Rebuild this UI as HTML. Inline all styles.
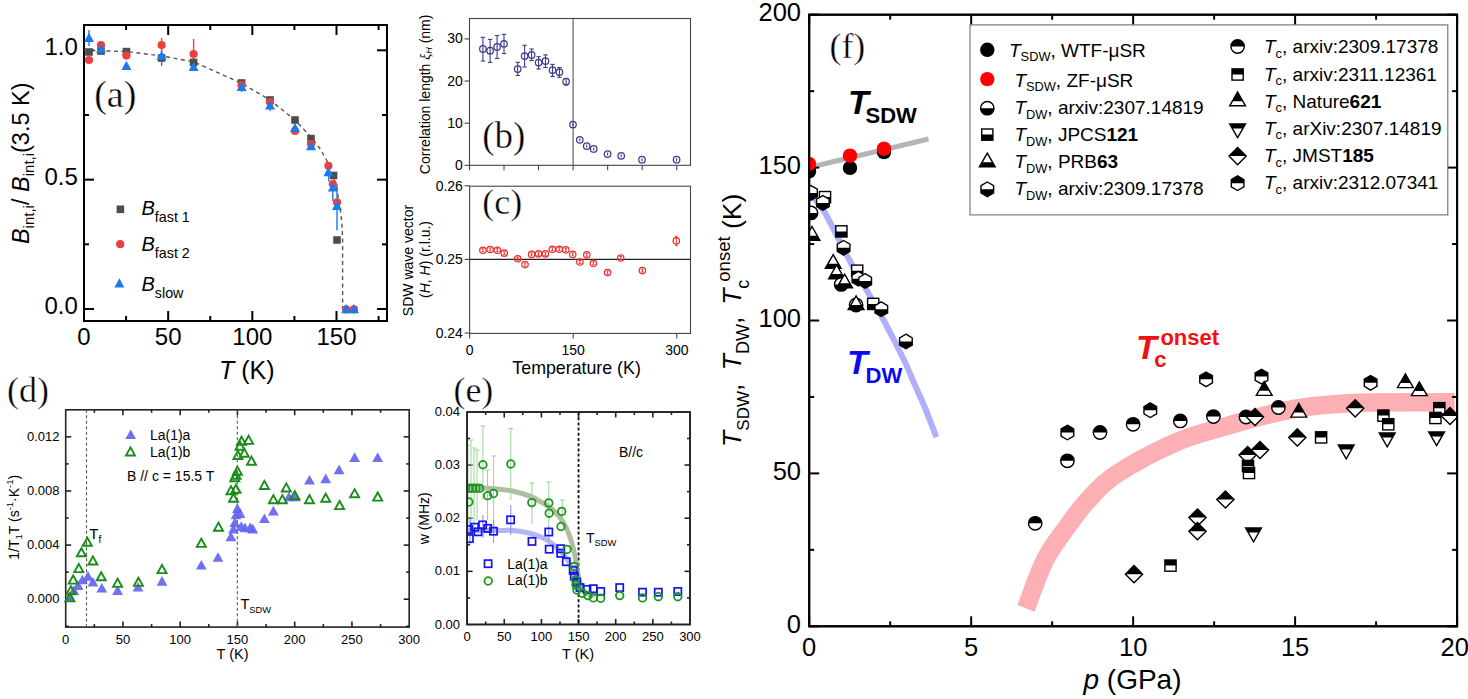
<!DOCTYPE html>
<html><head><meta charset="utf-8"><style>
html,body{margin:0;padding:0;background:#fff;width:1468px;height:699px;overflow:hidden}
svg{display:block;font-family:"Liberation Sans", sans-serif}
</style></head><body>
<svg width="1468" height="699" viewBox="0 0 1468 699">
<rect width="1468" height="699" fill="#fff"/>
<line x1="84.00" y1="321.00" x2="84.00" y2="311.00" stroke="#000" stroke-width="2" />
<line x1="84.00" y1="25.00" x2="84.00" y2="35.00" stroke="#000" stroke-width="2" />
<line x1="168.17" y1="321.00" x2="168.17" y2="311.00" stroke="#000" stroke-width="2" />
<line x1="168.17" y1="25.00" x2="168.17" y2="35.00" stroke="#000" stroke-width="2" />
<line x1="252.33" y1="321.00" x2="252.33" y2="311.00" stroke="#000" stroke-width="2" />
<line x1="252.33" y1="25.00" x2="252.33" y2="35.00" stroke="#000" stroke-width="2" />
<line x1="336.50" y1="321.00" x2="336.50" y2="311.00" stroke="#000" stroke-width="2" />
<line x1="336.50" y1="25.00" x2="336.50" y2="35.00" stroke="#000" stroke-width="2" />
<line x1="126.08" y1="321.00" x2="126.08" y2="316.00" stroke="#000" stroke-width="2" />
<line x1="126.08" y1="25.00" x2="126.08" y2="30.00" stroke="#000" stroke-width="2" />
<line x1="210.25" y1="321.00" x2="210.25" y2="316.00" stroke="#000" stroke-width="2" />
<line x1="210.25" y1="25.00" x2="210.25" y2="30.00" stroke="#000" stroke-width="2" />
<line x1="294.41" y1="321.00" x2="294.41" y2="316.00" stroke="#000" stroke-width="2" />
<line x1="294.41" y1="25.00" x2="294.41" y2="30.00" stroke="#000" stroke-width="2" />
<line x1="378.58" y1="321.00" x2="378.58" y2="316.00" stroke="#000" stroke-width="2" />
<line x1="378.58" y1="25.00" x2="378.58" y2="30.00" stroke="#000" stroke-width="2" />
<line x1="84.00" y1="309.00" x2="94.00" y2="309.00" stroke="#000" stroke-width="2" />
<line x1="387.00" y1="309.00" x2="377.00" y2="309.00" stroke="#000" stroke-width="2" />
<line x1="84.00" y1="179.65" x2="94.00" y2="179.65" stroke="#000" stroke-width="2" />
<line x1="387.00" y1="179.65" x2="377.00" y2="179.65" stroke="#000" stroke-width="2" />
<line x1="84.00" y1="50.30" x2="94.00" y2="50.30" stroke="#000" stroke-width="2" />
<line x1="387.00" y1="50.30" x2="377.00" y2="50.30" stroke="#000" stroke-width="2" />
<line x1="84.00" y1="244.32" x2="89.00" y2="244.32" stroke="#000" stroke-width="2" />
<line x1="387.00" y1="244.32" x2="382.00" y2="244.32" stroke="#000" stroke-width="2" />
<line x1="84.00" y1="114.98" x2="89.00" y2="114.98" stroke="#000" stroke-width="2" />
<line x1="387.00" y1="114.98" x2="382.00" y2="114.98" stroke="#000" stroke-width="2" />
<rect x="84.0" y="25.0" width="303.0" height="296.0" fill="none" stroke="#000" stroke-width="2"/>
<text x="84.00" y="345.10" font-size="24" text-anchor="middle" fill="#000" >0</text>
<text x="168.17" y="345.10" font-size="24" text-anchor="middle" fill="#000" >50</text>
<text x="252.33" y="345.10" font-size="24" text-anchor="middle" fill="#000" >100</text>
<text x="336.50" y="345.10" font-size="24" text-anchor="middle" fill="#000" >150</text>
<text x="77.80" y="313.90" font-size="24" text-anchor="end" fill="#000" >0.0</text>
<text x="77.80" y="184.55" font-size="24" text-anchor="end" fill="#000" >0.5</text>
<text x="77.80" y="55.20" font-size="24" text-anchor="end" fill="#000" >1.0</text>
<text transform="translate(28.60,163.25) rotate(-90)" font-size="23.5" text-anchor="middle" ><tspan font-style="italic">B</tspan><tspan font-size="15" dy="5.5">int,i</tspan><tspan dy="-5.5">/ </tspan><tspan font-style="italic">B</tspan><tspan font-size="15" dy="5.5">int,i</tspan><tspan dy="-5.5">(3.5 K)</tspan></text>
<text x="219" y="379.3" font-size="25"><tspan font-style="italic">T</tspan> (K)</text>
<text x="94.20" y="106.70" font-size="38" font-family='"Liberation Serif", serif' stroke="#fff" stroke-width="0.4">(a)</text>
<path d="M84.0,50.3 L126.0,51.5 L162.0,56.0 L194.0,62.0 L241.0,83.0 L270.0,100.0 L295.0,120.0 L311.0,137.0 L321.0,150.0 L328.0,163.0 L333.0,175.0 L337.0,190.0 L340.0,207.0 L341.8,222.0 L342.6,238.0 L342.6,309.0" fill="none" stroke="#555" stroke-width="1.4" stroke-dasharray="4,3.5"/>
<line x1="89.00" y1="30.00" x2="89.00" y2="46.00" stroke="#1e7ae8" stroke-width="1.4" />
<line x1="161.60" y1="38.00" x2="161.60" y2="52.00" stroke="#ee3f3f" stroke-width="1.4" />
<line x1="161.60" y1="50.00" x2="161.60" y2="66.00" stroke="#1e7ae8" stroke-width="1.4" />
<line x1="193.60" y1="39.00" x2="193.60" y2="62.00" stroke="#ee3f3f" stroke-width="1.4" />
<line x1="101.00" y1="43.00" x2="101.00" y2="53.00" stroke="#ee3f3f" stroke-width="1.4" />
<line x1="241.60" y1="84.00" x2="241.60" y2="92.00" stroke="#1e7ae8" stroke-width="1.4" />
<line x1="270.00" y1="101.00" x2="270.00" y2="111.00" stroke="#1e7ae8" stroke-width="1.4" />
<line x1="295.00" y1="124.00" x2="295.00" y2="134.00" stroke="#1e7ae8" stroke-width="1.4" />
<line x1="328.70" y1="165.00" x2="328.70" y2="181.60" stroke="#1e7ae8" stroke-width="1.4" />
<line x1="332.80" y1="184.00" x2="332.80" y2="201.00" stroke="#1e7ae8" stroke-width="1.4" />
<line x1="337.00" y1="184.00" x2="337.00" y2="230.30" stroke="#1e7ae8" stroke-width="1.4" />
<rect x="85.2" y="48.2" width="7.6" height="7.6" fill="#4d4d4d"/>
<rect x="97.2" y="47.2" width="7.6" height="7.6" fill="#4d4d4d"/>
<rect x="122.6" y="47.8" width="7.6" height="7.6" fill="#4d4d4d"/>
<rect x="157.8" y="54.2" width="7.6" height="7.6" fill="#4d4d4d"/>
<rect x="189.8" y="58.6" width="7.6" height="7.6" fill="#4d4d4d"/>
<rect x="237.8" y="79.2" width="7.6" height="7.6" fill="#4d4d4d"/>
<rect x="266.2" y="96.2" width="7.6" height="7.6" fill="#4d4d4d"/>
<rect x="291.2" y="116.2" width="7.6" height="7.6" fill="#4d4d4d"/>
<rect x="307.2" y="134.8" width="7.6" height="7.6" fill="#4d4d4d"/>
<circle cx="89.0" cy="60.0" r="4.1" fill="#ee3f3f"/>
<circle cx="101.0" cy="45.0" r="4.1" fill="#ee3f3f"/>
<circle cx="126.4" cy="55.6" r="4.1" fill="#ee3f3f"/>
<circle cx="161.6" cy="45.0" r="4.1" fill="#ee3f3f"/>
<circle cx="193.6" cy="54.0" r="4.1" fill="#ee3f3f"/>
<circle cx="241.6" cy="85.0" r="4.1" fill="#ee3f3f"/>
<circle cx="270.0" cy="102.0" r="4.1" fill="#ee3f3f"/>
<circle cx="295.0" cy="131.0" r="4.1" fill="#ee3f3f"/>
<circle cx="311.0" cy="144.0" r="4.1" fill="#ee3f3f"/>
<path d="M89.0,32.7 L94.0,41.9 L84.0,41.9Z" fill="#1e7ae8"/>
<path d="M101.0,43.7 L106.0,52.9 L96.0,52.9Z" fill="#1e7ae8"/>
<path d="M126.4,60.7 L131.4,69.9 L121.4,69.9Z" fill="#1e7ae8"/>
<path d="M161.6,50.7 L166.6,59.9 L156.6,59.9Z" fill="#1e7ae8"/>
<path d="M193.6,61.7 L198.6,70.9 L188.6,70.9Z" fill="#1e7ae8"/>
<path d="M241.6,81.7 L246.6,90.9 L236.6,90.9Z" fill="#1e7ae8"/>
<path d="M270.0,100.3 L275.0,109.5 L265.0,109.5Z" fill="#1e7ae8"/>
<path d="M295.0,122.7 L300.0,131.9 L290.0,131.9Z" fill="#1e7ae8"/>
<path d="M311.0,141.1 L316.0,150.3 L306.0,150.3Z" fill="#1e7ae8"/>
<rect x="329.8" y="171.7" width="7.6" height="7.6" fill="#4d4d4d"/>
<rect x="333.2" y="236.2" width="7.6" height="7.6" fill="#4d4d4d"/>
<circle cx="328.4" cy="165.8" r="4.1" fill="#ee3f3f"/>
<circle cx="332.8" cy="184.0" r="4.1" fill="#ee3f3f"/>
<circle cx="337.0" cy="202.3" r="4.1" fill="#ee3f3f"/>
<path d="M328.4,167.1 L333.4,176.3 L323.4,176.3Z" fill="#1e7ae8"/>
<path d="M332.8,182.4 L337.8,191.6 L327.8,191.6Z" fill="#1e7ae8"/>
<path d="M337.0,200.7 L342.0,209.9 L332.0,209.9Z" fill="#1e7ae8"/>
<circle cx="346.2" cy="309.4" r="4.1" fill="#ee3f3f"/>
<circle cx="354.0" cy="309.4" r="4.1" fill="#ee3f3f"/>
<path d="M346.2,304.1 L351.2,313.3 L341.2,313.3Z" fill="#1e7ae8"/>
<path d="M354.0,304.1 L359.0,313.3 L349.0,313.3Z" fill="#1e7ae8"/>
<rect x="116.6" y="205.5" width="7.6" height="7.6" fill="#4d4d4d"/>
<circle cx="120.2" cy="244.2" r="4.1" fill="#ee3f3f"/>
<path d="M119.4,278.2 L124.4,287.4 L114.4,287.4Z" fill="#1e7ae8"/>
<text x="141.5" y="215.3" font-size="20"><tspan font-style="italic">B</tspan><tspan font-size="14.3" dy="6.5">fast 1</tspan></text>
<text x="141.5" y="251.3" font-size="20"><tspan font-style="italic">B</tspan><tspan font-size="14.3" dy="6.5">fast 2</tspan></text>
<text x="141.5" y="291.0" font-size="20"><tspan font-style="italic">B</tspan><tspan font-size="14.3" dy="6.5">slow</tspan></text>
<rect x="469.5" y="18.5" width="221.0" height="146.8" fill="none" stroke="#444" stroke-width="1.1"/>
<line x1="464.50" y1="165.30" x2="469.50" y2="165.30" stroke="#444" stroke-width="1.1" />
<text x="462.75" y="169.80" font-size="14" text-anchor="end" fill="#000" >0</text>
<line x1="464.50" y1="123.17" x2="469.50" y2="123.17" stroke="#444" stroke-width="1.1" />
<text x="462.75" y="127.67" font-size="14" text-anchor="end" fill="#000" >10</text>
<line x1="464.50" y1="81.04" x2="469.50" y2="81.04" stroke="#444" stroke-width="1.1" />
<text x="462.75" y="85.54" font-size="14" text-anchor="end" fill="#000" >20</text>
<line x1="464.50" y1="38.91" x2="469.50" y2="38.91" stroke="#444" stroke-width="1.1" />
<text x="462.75" y="43.41" font-size="14" text-anchor="end" fill="#000" >30</text>
<line x1="469.50" y1="165.30" x2="469.50" y2="170.30" stroke="#444" stroke-width="1.1" />
<line x1="504.03" y1="165.30" x2="504.03" y2="170.30" stroke="#444" stroke-width="1.1" />
<line x1="538.57" y1="165.30" x2="538.57" y2="170.30" stroke="#444" stroke-width="1.1" />
<line x1="573.11" y1="165.30" x2="573.11" y2="170.30" stroke="#444" stroke-width="1.1" />
<line x1="607.64" y1="165.30" x2="607.64" y2="170.30" stroke="#444" stroke-width="1.1" />
<line x1="642.17" y1="165.30" x2="642.17" y2="170.30" stroke="#444" stroke-width="1.1" />
<line x1="676.71" y1="165.30" x2="676.71" y2="170.30" stroke="#444" stroke-width="1.1" />
<line x1="573.11" y1="18.50" x2="573.11" y2="165.30" stroke="#555" stroke-width="1.1" />
<text transform="translate(429.90,94.35) rotate(-90)" font-size="14" text-anchor="middle" >Correlation length <tspan font-style="italic" font-family='"Liberation Serif", serif'>ξ</tspan><tspan font-size="9" dy="2.5" font-style="italic">H</tspan><tspan dy="-2.5"> (nm)</tspan></text>
<text x="482.30" y="148.20" font-size="37" font-family='"Liberation Serif", serif' stroke="#fff" stroke-width="0.4">(b)</text>
<line x1="482.90" y1="37.30" x2="482.90" y2="61.00" stroke="#3c3c8c" stroke-width="1.1" />
<line x1="480.70" y1="37.30" x2="485.10" y2="37.30" stroke="#3c3c8c" stroke-width="1.1" />
<line x1="480.70" y1="61.00" x2="485.10" y2="61.00" stroke="#3c3c8c" stroke-width="1.1" />
<circle cx="482.9" cy="48.9" r="3.25" fill="none" stroke="#3c3c8c" stroke-width="1.25"/>
<line x1="490.10" y1="39.40" x2="490.10" y2="62.30" stroke="#3c3c8c" stroke-width="1.1" />
<line x1="487.90" y1="39.40" x2="492.30" y2="39.40" stroke="#3c3c8c" stroke-width="1.1" />
<line x1="487.90" y1="62.30" x2="492.30" y2="62.30" stroke="#3c3c8c" stroke-width="1.1" />
<circle cx="490.1" cy="50.7" r="3.25" fill="none" stroke="#3c3c8c" stroke-width="1.25"/>
<line x1="497.10" y1="35.50" x2="497.10" y2="58.50" stroke="#3c3c8c" stroke-width="1.1" />
<line x1="494.90" y1="35.50" x2="499.30" y2="35.50" stroke="#3c3c8c" stroke-width="1.1" />
<line x1="494.90" y1="58.50" x2="499.30" y2="58.50" stroke="#3c3c8c" stroke-width="1.1" />
<circle cx="497.1" cy="46.9" r="3.25" fill="none" stroke="#3c3c8c" stroke-width="1.25"/>
<line x1="504.00" y1="34.30" x2="504.00" y2="53.60" stroke="#3c3c8c" stroke-width="1.1" />
<line x1="501.80" y1="34.30" x2="506.20" y2="34.30" stroke="#3c3c8c" stroke-width="1.1" />
<line x1="501.80" y1="53.60" x2="506.20" y2="53.60" stroke="#3c3c8c" stroke-width="1.1" />
<circle cx="504" cy="43.8" r="3.25" fill="none" stroke="#3c3c8c" stroke-width="1.25"/>
<line x1="517.70" y1="62.30" x2="517.70" y2="75.50" stroke="#3c3c8c" stroke-width="1.1" />
<line x1="515.50" y1="62.30" x2="519.90" y2="62.30" stroke="#3c3c8c" stroke-width="1.1" />
<line x1="515.50" y1="75.50" x2="519.90" y2="75.50" stroke="#3c3c8c" stroke-width="1.1" />
<circle cx="517.7" cy="69" r="3.25" fill="none" stroke="#3c3c8c" stroke-width="1.25"/>
<line x1="524.60" y1="45.30" x2="524.60" y2="67.00" stroke="#3c3c8c" stroke-width="1.1" />
<line x1="522.40" y1="45.30" x2="526.80" y2="45.30" stroke="#3c3c8c" stroke-width="1.1" />
<line x1="522.40" y1="67.00" x2="526.80" y2="67.00" stroke="#3c3c8c" stroke-width="1.1" />
<circle cx="524.6" cy="56.1" r="3.25" fill="none" stroke="#3c3c8c" stroke-width="1.25"/>
<line x1="531.60" y1="49.00" x2="531.60" y2="60.50" stroke="#3c3c8c" stroke-width="1.1" />
<line x1="529.40" y1="49.00" x2="533.80" y2="49.00" stroke="#3c3c8c" stroke-width="1.1" />
<line x1="529.40" y1="60.50" x2="533.80" y2="60.50" stroke="#3c3c8c" stroke-width="1.1" />
<circle cx="531.6" cy="54.9" r="3.25" fill="none" stroke="#3c3c8c" stroke-width="1.25"/>
<line x1="538.60" y1="56.70" x2="538.60" y2="69.00" stroke="#3c3c8c" stroke-width="1.1" />
<line x1="536.40" y1="56.70" x2="540.80" y2="56.70" stroke="#3c3c8c" stroke-width="1.1" />
<line x1="536.40" y1="69.00" x2="540.80" y2="69.00" stroke="#3c3c8c" stroke-width="1.1" />
<circle cx="538.6" cy="62.6" r="3.25" fill="none" stroke="#3c3c8c" stroke-width="1.25"/>
<line x1="545.50" y1="54.90" x2="545.50" y2="67.50" stroke="#3c3c8c" stroke-width="1.1" />
<line x1="543.30" y1="54.90" x2="547.70" y2="54.90" stroke="#3c3c8c" stroke-width="1.1" />
<line x1="543.30" y1="67.50" x2="547.70" y2="67.50" stroke="#3c3c8c" stroke-width="1.1" />
<circle cx="545.5" cy="61" r="3.25" fill="none" stroke="#3c3c8c" stroke-width="1.25"/>
<line x1="552.50" y1="64.40" x2="552.50" y2="76.50" stroke="#3c3c8c" stroke-width="1.1" />
<line x1="550.30" y1="64.40" x2="554.70" y2="64.40" stroke="#3c3c8c" stroke-width="1.1" />
<line x1="550.30" y1="76.50" x2="554.70" y2="76.50" stroke="#3c3c8c" stroke-width="1.1" />
<circle cx="552.5" cy="70" r="3.25" fill="none" stroke="#3c3c8c" stroke-width="1.25"/>
<line x1="559.40" y1="67.50" x2="559.40" y2="77.30" stroke="#3c3c8c" stroke-width="1.1" />
<line x1="557.20" y1="67.50" x2="561.60" y2="67.50" stroke="#3c3c8c" stroke-width="1.1" />
<line x1="557.20" y1="77.30" x2="561.60" y2="77.30" stroke="#3c3c8c" stroke-width="1.1" />
<circle cx="559.4" cy="72.1" r="3.25" fill="none" stroke="#3c3c8c" stroke-width="1.25"/>
<line x1="566.10" y1="78.50" x2="566.10" y2="85.00" stroke="#3c3c8c" stroke-width="1.1" />
<line x1="563.90" y1="78.50" x2="568.30" y2="78.50" stroke="#3c3c8c" stroke-width="1.1" />
<line x1="563.90" y1="85.00" x2="568.30" y2="85.00" stroke="#3c3c8c" stroke-width="1.1" />
<circle cx="566.1" cy="81.6" r="3.25" fill="none" stroke="#3c3c8c" stroke-width="1.25"/>
<line x1="573.00" y1="123.10" x2="573.00" y2="126.10" stroke="#3c3c8c" stroke-width="1.1" />
<circle cx="573" cy="124.6" r="3.25" fill="none" stroke="#3c3c8c" stroke-width="1.25"/>
<line x1="579.80" y1="138.30" x2="579.80" y2="141.30" stroke="#3c3c8c" stroke-width="1.1" />
<circle cx="579.8" cy="139.8" r="3.25" fill="none" stroke="#3c3c8c" stroke-width="1.25"/>
<line x1="586.70" y1="144.50" x2="586.70" y2="147.50" stroke="#3c3c8c" stroke-width="1.1" />
<circle cx="586.7" cy="146" r="3.25" fill="none" stroke="#3c3c8c" stroke-width="1.25"/>
<line x1="593.70" y1="147.40" x2="593.70" y2="150.40" stroke="#3c3c8c" stroke-width="1.1" />
<circle cx="593.7" cy="148.9" r="3.25" fill="none" stroke="#3c3c8c" stroke-width="1.25"/>
<line x1="607.60" y1="152.50" x2="607.60" y2="155.50" stroke="#3c3c8c" stroke-width="1.1" />
<circle cx="607.6" cy="154" r="3.25" fill="none" stroke="#3c3c8c" stroke-width="1.25"/>
<line x1="621.20" y1="154.30" x2="621.20" y2="157.30" stroke="#3c3c8c" stroke-width="1.1" />
<circle cx="621.2" cy="155.8" r="3.25" fill="none" stroke="#3c3c8c" stroke-width="1.25"/>
<line x1="642.00" y1="158.20" x2="642.00" y2="161.20" stroke="#3c3c8c" stroke-width="1.1" />
<circle cx="642" cy="159.7" r="3.25" fill="none" stroke="#3c3c8c" stroke-width="1.25"/>
<line x1="676.60" y1="158.20" x2="676.60" y2="161.20" stroke="#3c3c8c" stroke-width="1.1" />
<circle cx="676.6" cy="159.7" r="3.25" fill="none" stroke="#3c3c8c" stroke-width="1.25"/>
<rect x="469.6" y="186.2" width="220.89999999999998" height="147.2" fill="none" stroke="#444" stroke-width="1.1"/>
<line x1="469.60" y1="259.40" x2="690.50" y2="259.40" stroke="#222" stroke-width="1.1" />
<line x1="464.60" y1="333.00" x2="469.60" y2="333.00" stroke="#444" stroke-width="1.1" />
<text x="462.90" y="337.80" font-size="14" text-anchor="end" fill="#000" >0.24</text>
<line x1="464.60" y1="259.40" x2="469.60" y2="259.40" stroke="#444" stroke-width="1.1" />
<text x="462.90" y="264.20" font-size="14" text-anchor="end" fill="#000" >0.25</text>
<line x1="464.60" y1="185.80" x2="469.60" y2="185.80" stroke="#444" stroke-width="1.1" />
<text x="462.90" y="190.60" font-size="14" text-anchor="end" fill="#000" >0.26</text>
<line x1="469.60" y1="333.40" x2="469.60" y2="338.40" stroke="#444" stroke-width="1.1" />
<text x="469.60" y="354.80" font-size="14" text-anchor="middle" fill="#000" >0</text>
<line x1="573.21" y1="333.40" x2="573.21" y2="338.40" stroke="#444" stroke-width="1.1" />
<text x="573.21" y="354.80" font-size="14" text-anchor="middle" fill="#000" >150</text>
<line x1="676.81" y1="333.40" x2="676.81" y2="338.40" stroke="#444" stroke-width="1.1" />
<text x="676.81" y="354.80" font-size="14" text-anchor="middle" fill="#000" >300</text>
<text x="576.6" y="374.2" font-size="17.8" text-anchor="middle">Temperature (K)</text>
<text transform="translate(413.40,260.50) rotate(-90)" font-size="14" text-anchor="middle" >SDW wave vector</text>
<text transform="translate(429.80,259.50) rotate(-90)" font-size="14" text-anchor="middle" >(<tspan font-style="italic">H</tspan>, <tspan font-style="italic">H</tspan>) (r.l.u.)</text>
<text x="482.30" y="214.10" font-size="36" font-family='"Liberation Serif", serif' stroke="#fff" stroke-width="0.4">(c)</text>
<line x1="482.90" y1="248.70" x2="482.90" y2="251.70" stroke="#f02a2a" stroke-width="1.0" />
<line x1="481.60" y1="248.70" x2="484.20" y2="248.70" stroke="#f02a2a" stroke-width="0.9" />
<line x1="481.60" y1="251.70" x2="484.20" y2="251.70" stroke="#f02a2a" stroke-width="0.9" />
<circle cx="482.9" cy="250.2" r="3.2" fill="none" stroke="#f02a2a" stroke-width="1.25"/>
<line x1="490.10" y1="248.00" x2="490.10" y2="251.00" stroke="#f02a2a" stroke-width="1.0" />
<line x1="488.80" y1="248.00" x2="491.40" y2="248.00" stroke="#f02a2a" stroke-width="0.9" />
<line x1="488.80" y1="251.00" x2="491.40" y2="251.00" stroke="#f02a2a" stroke-width="0.9" />
<circle cx="490.1" cy="249.5" r="3.2" fill="none" stroke="#f02a2a" stroke-width="1.25"/>
<line x1="497.30" y1="248.70" x2="497.30" y2="251.70" stroke="#f02a2a" stroke-width="1.0" />
<line x1="496.00" y1="248.70" x2="498.60" y2="248.70" stroke="#f02a2a" stroke-width="0.9" />
<line x1="496.00" y1="251.70" x2="498.60" y2="251.70" stroke="#f02a2a" stroke-width="0.9" />
<circle cx="497.3" cy="250.2" r="3.2" fill="none" stroke="#f02a2a" stroke-width="1.25"/>
<line x1="504.20" y1="251.60" x2="504.20" y2="254.60" stroke="#f02a2a" stroke-width="1.0" />
<line x1="502.90" y1="251.60" x2="505.50" y2="251.60" stroke="#f02a2a" stroke-width="0.9" />
<line x1="502.90" y1="254.60" x2="505.50" y2="254.60" stroke="#f02a2a" stroke-width="0.9" />
<circle cx="504.2" cy="253.1" r="3.2" fill="none" stroke="#f02a2a" stroke-width="1.25"/>
<line x1="517.70" y1="257.20" x2="517.70" y2="260.20" stroke="#f02a2a" stroke-width="1.0" />
<line x1="516.40" y1="257.20" x2="519.00" y2="257.20" stroke="#f02a2a" stroke-width="0.9" />
<line x1="516.40" y1="260.20" x2="519.00" y2="260.20" stroke="#f02a2a" stroke-width="0.9" />
<circle cx="517.7" cy="258.7" r="3.2" fill="none" stroke="#f02a2a" stroke-width="1.25"/>
<line x1="525.00" y1="263.10" x2="525.00" y2="266.10" stroke="#f02a2a" stroke-width="1.0" />
<line x1="523.70" y1="263.10" x2="526.30" y2="263.10" stroke="#f02a2a" stroke-width="0.9" />
<line x1="523.70" y1="266.10" x2="526.30" y2="266.10" stroke="#f02a2a" stroke-width="0.9" />
<circle cx="525" cy="264.6" r="3.2" fill="none" stroke="#f02a2a" stroke-width="1.25"/>
<line x1="531.60" y1="252.90" x2="531.60" y2="255.90" stroke="#f02a2a" stroke-width="1.0" />
<line x1="530.30" y1="252.90" x2="532.90" y2="252.90" stroke="#f02a2a" stroke-width="0.9" />
<line x1="530.30" y1="255.90" x2="532.90" y2="255.90" stroke="#f02a2a" stroke-width="0.9" />
<circle cx="531.6" cy="254.4" r="3.2" fill="none" stroke="#f02a2a" stroke-width="1.25"/>
<line x1="538.50" y1="252.30" x2="538.50" y2="255.30" stroke="#f02a2a" stroke-width="1.0" />
<line x1="537.20" y1="252.30" x2="539.80" y2="252.30" stroke="#f02a2a" stroke-width="0.9" />
<line x1="537.20" y1="255.30" x2="539.80" y2="255.30" stroke="#f02a2a" stroke-width="0.9" />
<circle cx="538.5" cy="253.8" r="3.2" fill="none" stroke="#f02a2a" stroke-width="1.25"/>
<line x1="545.40" y1="252.30" x2="545.40" y2="255.30" stroke="#f02a2a" stroke-width="1.0" />
<line x1="544.10" y1="252.30" x2="546.70" y2="252.30" stroke="#f02a2a" stroke-width="0.9" />
<line x1="544.10" y1="255.30" x2="546.70" y2="255.30" stroke="#f02a2a" stroke-width="0.9" />
<circle cx="545.4" cy="253.8" r="3.2" fill="none" stroke="#f02a2a" stroke-width="1.25"/>
<line x1="552.30" y1="247.70" x2="552.30" y2="250.70" stroke="#f02a2a" stroke-width="1.0" />
<line x1="551.00" y1="247.70" x2="553.60" y2="247.70" stroke="#f02a2a" stroke-width="0.9" />
<line x1="551.00" y1="250.70" x2="553.60" y2="250.70" stroke="#f02a2a" stroke-width="0.9" />
<circle cx="552.3" cy="249.2" r="3.2" fill="none" stroke="#f02a2a" stroke-width="1.25"/>
<line x1="559.20" y1="247.70" x2="559.20" y2="250.70" stroke="#f02a2a" stroke-width="1.0" />
<line x1="557.90" y1="247.70" x2="560.50" y2="247.70" stroke="#f02a2a" stroke-width="0.9" />
<line x1="557.90" y1="250.70" x2="560.50" y2="250.70" stroke="#f02a2a" stroke-width="0.9" />
<circle cx="559.2" cy="249.2" r="3.2" fill="none" stroke="#f02a2a" stroke-width="1.25"/>
<line x1="565.80" y1="248.30" x2="565.80" y2="251.30" stroke="#f02a2a" stroke-width="1.0" />
<line x1="564.50" y1="248.30" x2="567.10" y2="248.30" stroke="#f02a2a" stroke-width="0.9" />
<line x1="564.50" y1="251.30" x2="567.10" y2="251.30" stroke="#f02a2a" stroke-width="0.9" />
<circle cx="565.8" cy="249.8" r="3.2" fill="none" stroke="#f02a2a" stroke-width="1.25"/>
<line x1="572.70" y1="252.90" x2="572.70" y2="255.90" stroke="#f02a2a" stroke-width="1.0" />
<line x1="571.40" y1="252.90" x2="574.00" y2="252.90" stroke="#f02a2a" stroke-width="0.9" />
<line x1="571.40" y1="255.90" x2="574.00" y2="255.90" stroke="#f02a2a" stroke-width="0.9" />
<circle cx="572.7" cy="254.4" r="3.2" fill="none" stroke="#f02a2a" stroke-width="1.25"/>
<line x1="579.90" y1="260.50" x2="579.90" y2="263.50" stroke="#f02a2a" stroke-width="1.0" />
<line x1="578.60" y1="260.50" x2="581.20" y2="260.50" stroke="#f02a2a" stroke-width="0.9" />
<line x1="578.60" y1="263.50" x2="581.20" y2="263.50" stroke="#f02a2a" stroke-width="0.9" />
<circle cx="579.9" cy="262" r="3.2" fill="none" stroke="#f02a2a" stroke-width="1.25"/>
<line x1="586.80" y1="253.30" x2="586.80" y2="256.30" stroke="#f02a2a" stroke-width="1.0" />
<line x1="585.50" y1="253.30" x2="588.10" y2="253.30" stroke="#f02a2a" stroke-width="0.9" />
<line x1="585.50" y1="256.30" x2="588.10" y2="256.30" stroke="#f02a2a" stroke-width="0.9" />
<circle cx="586.8" cy="254.8" r="3.2" fill="none" stroke="#f02a2a" stroke-width="1.25"/>
<line x1="593.40" y1="261.80" x2="593.40" y2="264.80" stroke="#f02a2a" stroke-width="1.0" />
<line x1="592.10" y1="261.80" x2="594.70" y2="261.80" stroke="#f02a2a" stroke-width="0.9" />
<line x1="592.10" y1="264.80" x2="594.70" y2="264.80" stroke="#f02a2a" stroke-width="0.9" />
<circle cx="593.4" cy="263.3" r="3.2" fill="none" stroke="#f02a2a" stroke-width="1.25"/>
<line x1="607.60" y1="271.00" x2="607.60" y2="274.00" stroke="#f02a2a" stroke-width="1.0" />
<line x1="606.30" y1="271.00" x2="608.90" y2="271.00" stroke="#f02a2a" stroke-width="0.9" />
<line x1="606.30" y1="274.00" x2="608.90" y2="274.00" stroke="#f02a2a" stroke-width="0.9" />
<circle cx="607.6" cy="272.5" r="3.2" fill="none" stroke="#f02a2a" stroke-width="1.25"/>
<line x1="620.70" y1="256.50" x2="620.70" y2="259.50" stroke="#f02a2a" stroke-width="1.0" />
<line x1="619.40" y1="256.50" x2="622.00" y2="256.50" stroke="#f02a2a" stroke-width="0.9" />
<line x1="619.40" y1="259.50" x2="622.00" y2="259.50" stroke="#f02a2a" stroke-width="0.9" />
<circle cx="620.7" cy="258" r="3.2" fill="none" stroke="#f02a2a" stroke-width="1.25"/>
<line x1="642.40" y1="269.10" x2="642.40" y2="272.10" stroke="#f02a2a" stroke-width="1.0" />
<line x1="641.10" y1="269.10" x2="643.70" y2="269.10" stroke="#f02a2a" stroke-width="0.9" />
<line x1="641.10" y1="272.10" x2="643.70" y2="272.10" stroke="#f02a2a" stroke-width="0.9" />
<circle cx="642.4" cy="270.6" r="3.2" fill="none" stroke="#f02a2a" stroke-width="1.25"/>
<line x1="676.30" y1="236.40" x2="676.30" y2="245.40" stroke="#f02a2a" stroke-width="1.0" />
<line x1="675.00" y1="236.40" x2="677.60" y2="236.40" stroke="#f02a2a" stroke-width="0.9" />
<line x1="675.00" y1="245.40" x2="677.60" y2="245.40" stroke="#f02a2a" stroke-width="0.9" />
<circle cx="676.3" cy="240.9" r="3.2" fill="none" stroke="#f02a2a" stroke-width="1.25"/>
<line x1="65.70" y1="626.26" x2="68.70" y2="626.26" stroke="#222" stroke-width="1.6" />
<line x1="409.20" y1="626.26" x2="406.20" y2="626.26" stroke="#222" stroke-width="1.6" />
<line x1="65.70" y1="599.20" x2="71.20" y2="599.20" stroke="#222" stroke-width="1.6" />
<line x1="409.20" y1="599.20" x2="403.70" y2="599.20" stroke="#222" stroke-width="1.6" />
<line x1="65.70" y1="572.14" x2="68.70" y2="572.14" stroke="#222" stroke-width="1.6" />
<line x1="409.20" y1="572.14" x2="406.20" y2="572.14" stroke="#222" stroke-width="1.6" />
<line x1="65.70" y1="545.08" x2="71.20" y2="545.08" stroke="#222" stroke-width="1.6" />
<line x1="409.20" y1="545.08" x2="403.70" y2="545.08" stroke="#222" stroke-width="1.6" />
<line x1="65.70" y1="518.03" x2="68.70" y2="518.03" stroke="#222" stroke-width="1.6" />
<line x1="409.20" y1="518.03" x2="406.20" y2="518.03" stroke="#222" stroke-width="1.6" />
<line x1="65.70" y1="490.97" x2="71.20" y2="490.97" stroke="#222" stroke-width="1.6" />
<line x1="409.20" y1="490.97" x2="403.70" y2="490.97" stroke="#222" stroke-width="1.6" />
<line x1="65.70" y1="463.91" x2="68.70" y2="463.91" stroke="#222" stroke-width="1.6" />
<line x1="409.20" y1="463.91" x2="406.20" y2="463.91" stroke="#222" stroke-width="1.6" />
<line x1="65.70" y1="436.85" x2="71.20" y2="436.85" stroke="#222" stroke-width="1.6" />
<line x1="409.20" y1="436.85" x2="403.70" y2="436.85" stroke="#222" stroke-width="1.6" />
<line x1="94.33" y1="627.10" x2="94.33" y2="624.10" stroke="#222" stroke-width="1.6" />
<line x1="94.33" y1="409.80" x2="94.33" y2="412.80" stroke="#222" stroke-width="1.6" />
<line x1="122.95" y1="627.10" x2="122.95" y2="621.60" stroke="#222" stroke-width="1.6" />
<line x1="122.95" y1="409.80" x2="122.95" y2="415.30" stroke="#222" stroke-width="1.6" />
<line x1="151.57" y1="627.10" x2="151.57" y2="624.10" stroke="#222" stroke-width="1.6" />
<line x1="151.57" y1="409.80" x2="151.57" y2="412.80" stroke="#222" stroke-width="1.6" />
<line x1="180.20" y1="627.10" x2="180.20" y2="621.60" stroke="#222" stroke-width="1.6" />
<line x1="180.20" y1="409.80" x2="180.20" y2="415.30" stroke="#222" stroke-width="1.6" />
<line x1="208.82" y1="627.10" x2="208.82" y2="624.10" stroke="#222" stroke-width="1.6" />
<line x1="208.82" y1="409.80" x2="208.82" y2="412.80" stroke="#222" stroke-width="1.6" />
<line x1="237.45" y1="627.10" x2="237.45" y2="621.60" stroke="#222" stroke-width="1.6" />
<line x1="237.45" y1="409.80" x2="237.45" y2="415.30" stroke="#222" stroke-width="1.6" />
<line x1="266.07" y1="627.10" x2="266.07" y2="624.10" stroke="#222" stroke-width="1.6" />
<line x1="266.07" y1="409.80" x2="266.07" y2="412.80" stroke="#222" stroke-width="1.6" />
<line x1="294.70" y1="627.10" x2="294.70" y2="621.60" stroke="#222" stroke-width="1.6" />
<line x1="294.70" y1="409.80" x2="294.70" y2="415.30" stroke="#222" stroke-width="1.6" />
<line x1="323.32" y1="627.10" x2="323.32" y2="624.10" stroke="#222" stroke-width="1.6" />
<line x1="323.32" y1="409.80" x2="323.32" y2="412.80" stroke="#222" stroke-width="1.6" />
<line x1="351.95" y1="627.10" x2="351.95" y2="621.60" stroke="#222" stroke-width="1.6" />
<line x1="351.95" y1="409.80" x2="351.95" y2="415.30" stroke="#222" stroke-width="1.6" />
<line x1="380.57" y1="627.10" x2="380.57" y2="624.10" stroke="#222" stroke-width="1.6" />
<line x1="380.57" y1="409.80" x2="380.57" y2="412.80" stroke="#222" stroke-width="1.6" />
<rect x="65.7" y="409.8" width="343.5" height="217.3" fill="none" stroke="#222" stroke-width="1.6"/>
<text x="59.50" y="603.30" font-size="13" text-anchor="end" fill="#000" >0.000</text>
<text x="59.50" y="549.18" font-size="13" text-anchor="end" fill="#000" >0.004</text>
<text x="59.50" y="495.07" font-size="13" text-anchor="end" fill="#000" >0.008</text>
<text x="59.50" y="440.95" font-size="13" text-anchor="end" fill="#000" >0.012</text>
<text x="65.70" y="644.00" font-size="13" text-anchor="middle" fill="#000" >0</text>
<text x="122.95" y="644.00" font-size="13" text-anchor="middle" fill="#000" >50</text>
<text x="180.20" y="644.00" font-size="13" text-anchor="middle" fill="#000" >100</text>
<text x="237.45" y="644.00" font-size="13" text-anchor="middle" fill="#000" >150</text>
<text x="294.70" y="644.00" font-size="13" text-anchor="middle" fill="#000" >200</text>
<text x="351.95" y="644.00" font-size="13" text-anchor="middle" fill="#000" >250</text>
<text x="409.20" y="644.00" font-size="13" text-anchor="middle" fill="#000" >300</text>
<text x="232.5" y="658.8" font-size="14.5" text-anchor="middle">T (K)</text>
<text transform="translate(18.90,517.25) rotate(-90)" font-size="14" text-anchor="middle" >1/T<tspan font-size="9.5" dy="3">1</tspan><tspan dy="-3">T (s</tspan><tspan font-size="9.5" dy="-5.5">-1</tspan><tspan dy="5.5">·K</tspan><tspan font-size="9.5" dy="-5.5">-1</tspan><tspan dy="5.5">)</tspan></text>
<text x="7.00" y="401.60" font-size="36" font-family='"Liberation Serif", serif' stroke="#fff" stroke-width="0.4">(d)</text>
<line x1="86.50" y1="409.80" x2="86.50" y2="627.10" stroke="#555" stroke-width="1.1" stroke-dasharray="3,2.5"/>
<line x1="237.30" y1="409.80" x2="237.30" y2="627.10" stroke="#555" stroke-width="1.1" stroke-dasharray="3,2.5"/>
<text x="89.3" y="538.9" font-size="15">T<tspan font-size="10" dy="4">f</tspan></text>
<text x="240.5" y="609.4" font-size="14.5">T<tspan font-size="9.3" dy="3.5">SDW</tspan></text>
<path d="M130.7,429.5 L136.1,439.1 L125.3,439.1Z" fill="#6464f0" fill-opacity="0.92"/>
<path d="M130.5,447.4 L135.0,455.5 L126.0,455.5Z" fill="none" stroke="#1a8c1a" stroke-width="1.9"/>
<text x="149.90" y="439.50" font-size="14" text-anchor="start" fill="#000" >La(1)a</text>
<text x="149.90" y="457.00" font-size="14" text-anchor="start" fill="#000" >La(1)b</text>
<text x="127.00" y="481.30" font-size="14" text-anchor="start" fill="#000" >B // c = 15.5 T</text>
<path d="M69.9,591.9 L75.3,601.5 L64.5,601.5Z" fill="#6464f0" fill-opacity="0.92"/>
<path d="M73.8,585.3 L79.2,594.9 L68.4,594.9Z" fill="#6464f0" fill-opacity="0.92"/>
<path d="M78.1,580.3 L83.5,589.9 L72.7,589.9Z" fill="#6464f0" fill-opacity="0.92"/>
<path d="M82.4,574.7 L87.8,584.3 L77.0,584.3Z" fill="#6464f0" fill-opacity="0.92"/>
<path d="M88.0,571.1 L93.4,580.7 L82.6,580.7Z" fill="#6464f0" fill-opacity="0.92"/>
<path d="M92.9,577.0 L98.3,586.6 L87.5,586.6Z" fill="#6464f0" fill-opacity="0.92"/>
<path d="M101.8,583.0 L107.2,592.6 L96.4,592.6Z" fill="#6464f0" fill-opacity="0.92"/>
<path d="M117.6,585.3 L123.0,594.9 L112.2,594.9Z" fill="#6464f0" fill-opacity="0.92"/>
<path d="M138.0,582.0 L143.4,591.6 L132.6,591.6Z" fill="#6464f0" fill-opacity="0.92"/>
<path d="M162.0,576.1 L167.4,585.7 L156.6,585.7Z" fill="#6464f0" fill-opacity="0.92"/>
<path d="M201.3,559.9 L206.7,569.5 L195.9,569.5Z" fill="#6464f0" fill-opacity="0.92"/>
<path d="M218.0,552.2 L223.4,561.8 L212.6,561.8Z" fill="#6464f0" fill-opacity="0.92"/>
<path d="M230.9,531.6 L236.3,541.2 L225.5,541.2Z" fill="#6464f0" fill-opacity="0.92"/>
<path d="M233.5,523.8 L238.9,533.4 L228.1,533.4Z" fill="#6464f0" fill-opacity="0.92"/>
<path d="M234.8,517.4 L240.2,527.0 L229.4,527.0Z" fill="#6464f0" fill-opacity="0.92"/>
<path d="M236.0,509.7 L241.4,519.3 L230.6,519.3Z" fill="#6464f0" fill-opacity="0.92"/>
<path d="M237.4,503.3 L242.8,512.9 L232.0,512.9Z" fill="#6464f0" fill-opacity="0.92"/>
<path d="M240.0,508.3 L245.4,517.9 L234.6,517.9Z" fill="#6464f0" fill-opacity="0.92"/>
<path d="M241.2,521.3 L246.6,530.9 L235.8,530.9Z" fill="#6464f0" fill-opacity="0.92"/>
<path d="M245.0,522.6 L250.4,532.2 L239.6,532.2Z" fill="#6464f0" fill-opacity="0.92"/>
<path d="M250.2,522.6 L255.6,532.2 L244.8,532.2Z" fill="#6464f0" fill-opacity="0.92"/>
<path d="M252.8,523.8 L258.2,533.4 L247.4,533.4Z" fill="#6464f0" fill-opacity="0.92"/>
<path d="M264.4,513.5 L269.8,523.1 L259.0,523.1Z" fill="#6464f0" fill-opacity="0.92"/>
<path d="M273.4,505.8 L278.8,515.4 L268.0,515.4Z" fill="#6464f0" fill-opacity="0.92"/>
<path d="M288.9,491.7 L294.3,501.3 L283.5,501.3Z" fill="#6464f0" fill-opacity="0.92"/>
<path d="M295.3,491.7 L300.7,501.3 L289.9,501.3Z" fill="#6464f0" fill-opacity="0.92"/>
<path d="M309.5,474.9 L314.9,484.5 L304.1,484.5Z" fill="#6464f0" fill-opacity="0.92"/>
<path d="M325.7,473.6 L331.1,483.2 L320.3,483.2Z" fill="#6464f0" fill-opacity="0.92"/>
<path d="M339.1,464.6 L344.5,474.2 L333.7,474.2Z" fill="#6464f0" fill-opacity="0.92"/>
<path d="M354.6,452.3 L360.0,461.9 L349.2,461.9Z" fill="#6464f0" fill-opacity="0.92"/>
<path d="M377.7,452.3 L383.1,461.9 L372.3,461.9Z" fill="#6464f0" fill-opacity="0.92"/>
<path d="M69.9,593.3 L74.4,601.4 L65.4,601.4Z" fill="none" stroke="#1a8c1a" stroke-width="1.9"/>
<path d="M70.9,586.1 L75.4,594.2 L66.4,594.2Z" fill="none" stroke="#1a8c1a" stroke-width="1.9"/>
<path d="M73.2,575.5 L77.7,583.6 L68.7,583.6Z" fill="none" stroke="#1a8c1a" stroke-width="1.9"/>
<path d="M78.8,564.0 L83.3,572.1 L74.3,572.1Z" fill="none" stroke="#1a8c1a" stroke-width="1.9"/>
<path d="M81.4,548.2 L85.9,556.3 L76.9,556.3Z" fill="none" stroke="#1a8c1a" stroke-width="1.9"/>
<path d="M87.3,537.7 L91.8,545.8 L82.8,545.8Z" fill="none" stroke="#1a8c1a" stroke-width="1.9"/>
<path d="M92.9,556.4 L97.4,564.5 L88.4,564.5Z" fill="none" stroke="#1a8c1a" stroke-width="1.9"/>
<path d="M101.2,572.2 L105.7,580.3 L96.7,580.3Z" fill="none" stroke="#1a8c1a" stroke-width="1.9"/>
<path d="M117.6,578.8 L122.1,586.9 L113.1,586.9Z" fill="none" stroke="#1a8c1a" stroke-width="1.9"/>
<path d="M138.4,577.8 L142.9,585.9 L133.9,585.9Z" fill="none" stroke="#1a8c1a" stroke-width="1.9"/>
<path d="M162.0,565.0 L166.5,573.1 L157.5,573.1Z" fill="none" stroke="#1a8c1a" stroke-width="1.9"/>
<path d="M201.3,538.8 L205.8,546.9 L196.8,546.9Z" fill="none" stroke="#1a8c1a" stroke-width="1.9"/>
<path d="M218.5,522.6 L223.0,530.7 L214.0,530.7Z" fill="none" stroke="#1a8c1a" stroke-width="1.9"/>
<path d="M233.5,493.7 L238.0,501.8 L229.0,501.8Z" fill="none" stroke="#1a8c1a" stroke-width="1.9"/>
<path d="M236.0,484.7 L240.5,492.8 L231.5,492.8Z" fill="none" stroke="#1a8c1a" stroke-width="1.9"/>
<path d="M231.0,486.1 L235.5,494.2 L226.5,494.2Z" fill="none" stroke="#1a8c1a" stroke-width="1.9"/>
<path d="M236.0,470.6 L240.5,478.7 L231.5,478.7Z" fill="none" stroke="#1a8c1a" stroke-width="1.9"/>
<path d="M234.8,473.1 L239.3,481.2 L230.3,481.2Z" fill="none" stroke="#1a8c1a" stroke-width="1.9"/>
<path d="M237.4,466.7 L241.9,474.8 L232.9,474.8Z" fill="none" stroke="#1a8c1a" stroke-width="1.9"/>
<path d="M241.5,436.6 L246.0,444.7 L237.0,444.7Z" fill="none" stroke="#1a8c1a" stroke-width="1.9"/>
<path d="M248.6,435.8 L253.1,443.9 L244.1,443.9Z" fill="none" stroke="#1a8c1a" stroke-width="1.9"/>
<path d="M240.0,441.6 L244.5,449.7 L235.5,449.7Z" fill="none" stroke="#1a8c1a" stroke-width="1.9"/>
<path d="M244.3,448.7 L248.8,456.8 L239.8,456.8Z" fill="none" stroke="#1a8c1a" stroke-width="1.9"/>
<path d="M237.9,450.9 L242.4,459.0 L233.4,459.0Z" fill="none" stroke="#1a8c1a" stroke-width="1.9"/>
<path d="M251.5,456.6 L256.0,464.7 L247.0,464.7Z" fill="none" stroke="#1a8c1a" stroke-width="1.9"/>
<path d="M264.4,480.9 L268.9,489.0 L259.9,489.0Z" fill="none" stroke="#1a8c1a" stroke-width="1.9"/>
<path d="M273.4,495.1 L277.9,503.2 L268.9,503.2Z" fill="none" stroke="#1a8c1a" stroke-width="1.9"/>
<path d="M282.4,495.1 L286.9,503.2 L277.9,503.2Z" fill="none" stroke="#1a8c1a" stroke-width="1.9"/>
<path d="M286.3,483.4 L290.8,491.5 L281.8,491.5Z" fill="none" stroke="#1a8c1a" stroke-width="1.9"/>
<path d="M294.8,491.1 L299.3,499.2 L290.3,499.2Z" fill="none" stroke="#1a8c1a" stroke-width="1.9"/>
<path d="M309.5,495.1 L314.0,503.2 L305.0,503.2Z" fill="none" stroke="#1a8c1a" stroke-width="1.9"/>
<path d="M325.7,493.7 L330.2,501.8 L321.2,501.8Z" fill="none" stroke="#1a8c1a" stroke-width="1.9"/>
<path d="M339.6,501.0 L344.1,509.1 L335.1,509.1Z" fill="none" stroke="#1a8c1a" stroke-width="1.9"/>
<path d="M354.6,489.1 L359.1,497.2 L350.1,497.2Z" fill="none" stroke="#1a8c1a" stroke-width="1.9"/>
<path d="M377.7,492.5 L382.2,500.6 L373.2,500.6Z" fill="none" stroke="#1a8c1a" stroke-width="1.9"/>
<line x1="467.10" y1="597.92" x2="470.10" y2="597.92" stroke="#222" stroke-width="1.6" />
<line x1="690.00" y1="597.92" x2="687.00" y2="597.92" stroke="#222" stroke-width="1.6" />
<line x1="467.10" y1="571.35" x2="472.60" y2="571.35" stroke="#222" stroke-width="1.6" />
<line x1="690.00" y1="571.35" x2="684.50" y2="571.35" stroke="#222" stroke-width="1.6" />
<line x1="467.10" y1="544.77" x2="470.10" y2="544.77" stroke="#222" stroke-width="1.6" />
<line x1="690.00" y1="544.77" x2="687.00" y2="544.77" stroke="#222" stroke-width="1.6" />
<line x1="467.10" y1="518.20" x2="472.60" y2="518.20" stroke="#222" stroke-width="1.6" />
<line x1="690.00" y1="518.20" x2="684.50" y2="518.20" stroke="#222" stroke-width="1.6" />
<line x1="467.10" y1="491.62" x2="470.10" y2="491.62" stroke="#222" stroke-width="1.6" />
<line x1="690.00" y1="491.62" x2="687.00" y2="491.62" stroke="#222" stroke-width="1.6" />
<line x1="467.10" y1="465.05" x2="472.60" y2="465.05" stroke="#222" stroke-width="1.6" />
<line x1="690.00" y1="465.05" x2="684.50" y2="465.05" stroke="#222" stroke-width="1.6" />
<line x1="467.10" y1="438.48" x2="470.10" y2="438.48" stroke="#222" stroke-width="1.6" />
<line x1="690.00" y1="438.48" x2="687.00" y2="438.48" stroke="#222" stroke-width="1.6" />
<line x1="485.68" y1="624.50" x2="485.68" y2="621.50" stroke="#222" stroke-width="1.6" />
<line x1="485.68" y1="412.00" x2="485.68" y2="415.00" stroke="#222" stroke-width="1.6" />
<line x1="504.25" y1="624.50" x2="504.25" y2="619.00" stroke="#222" stroke-width="1.6" />
<line x1="504.25" y1="412.00" x2="504.25" y2="417.50" stroke="#222" stroke-width="1.6" />
<line x1="522.83" y1="624.50" x2="522.83" y2="621.50" stroke="#222" stroke-width="1.6" />
<line x1="522.83" y1="412.00" x2="522.83" y2="415.00" stroke="#222" stroke-width="1.6" />
<line x1="541.40" y1="624.50" x2="541.40" y2="619.00" stroke="#222" stroke-width="1.6" />
<line x1="541.40" y1="412.00" x2="541.40" y2="417.50" stroke="#222" stroke-width="1.6" />
<line x1="559.98" y1="624.50" x2="559.98" y2="621.50" stroke="#222" stroke-width="1.6" />
<line x1="559.98" y1="412.00" x2="559.98" y2="415.00" stroke="#222" stroke-width="1.6" />
<line x1="578.55" y1="624.50" x2="578.55" y2="619.00" stroke="#222" stroke-width="1.6" />
<line x1="578.55" y1="412.00" x2="578.55" y2="417.50" stroke="#222" stroke-width="1.6" />
<line x1="597.12" y1="624.50" x2="597.12" y2="621.50" stroke="#222" stroke-width="1.6" />
<line x1="597.12" y1="412.00" x2="597.12" y2="415.00" stroke="#222" stroke-width="1.6" />
<line x1="615.70" y1="624.50" x2="615.70" y2="619.00" stroke="#222" stroke-width="1.6" />
<line x1="615.70" y1="412.00" x2="615.70" y2="417.50" stroke="#222" stroke-width="1.6" />
<line x1="634.28" y1="624.50" x2="634.28" y2="621.50" stroke="#222" stroke-width="1.6" />
<line x1="634.28" y1="412.00" x2="634.28" y2="415.00" stroke="#222" stroke-width="1.6" />
<line x1="652.85" y1="624.50" x2="652.85" y2="619.00" stroke="#222" stroke-width="1.6" />
<line x1="652.85" y1="412.00" x2="652.85" y2="417.50" stroke="#222" stroke-width="1.6" />
<line x1="671.42" y1="624.50" x2="671.42" y2="621.50" stroke="#222" stroke-width="1.6" />
<line x1="671.42" y1="412.00" x2="671.42" y2="415.00" stroke="#222" stroke-width="1.6" />
<rect x="467.1" y="412.0" width="222.89999999999998" height="212.5" fill="none" stroke="#222" stroke-width="1.6"/>
<text x="460.10" y="628.50" font-size="13" text-anchor="end" fill="#000" >0.00</text>
<text x="460.10" y="575.35" font-size="13" text-anchor="end" fill="#000" >0.01</text>
<text x="460.10" y="522.20" font-size="13" text-anchor="end" fill="#000" >0.02</text>
<text x="460.10" y="469.05" font-size="13" text-anchor="end" fill="#000" >0.03</text>
<text x="460.10" y="415.90" font-size="13" text-anchor="end" fill="#000" >0.04</text>
<text x="467.10" y="641.40" font-size="13" text-anchor="middle" fill="#000" >0</text>
<text x="504.25" y="641.40" font-size="13" text-anchor="middle" fill="#000" >50</text>
<text x="541.40" y="641.40" font-size="13" text-anchor="middle" fill="#000" >100</text>
<text x="578.55" y="641.40" font-size="13" text-anchor="middle" fill="#000" >150</text>
<text x="615.70" y="641.40" font-size="13" text-anchor="middle" fill="#000" >200</text>
<text x="652.85" y="641.40" font-size="13" text-anchor="middle" fill="#000" >250</text>
<text x="690.00" y="641.40" font-size="13" text-anchor="middle" fill="#000" >300</text>
<text x="578" y="658.8" font-size="14.5" text-anchor="middle">T (K)</text>
<text transform="translate(428.60,518.30) rotate(-90)" font-size="14" text-anchor="middle" >w (MHz)</text>
<text x="453.40" y="401.60" font-size="36" font-family='"Liberation Serif", serif' stroke="#fff" stroke-width="0.4">(e)</text>
<line x1="578.55" y1="412.00" x2="578.55" y2="624.50" stroke="#111" stroke-width="1.8" stroke-dasharray="3,2.2"/>
<text x="619" y="456.6" font-size="14">B//c</text>
<text x="586" y="542.5" font-size="14">T<tspan font-size="9.3" dy="3.7">SDW</tspan></text>
<path d="M467.50,487.20 C472.30,487.48 488.63,488.23 496.30,488.90 C503.97,489.57 507.78,489.97 513.50,491.20 C519.22,492.43 526.02,494.50 530.60,496.30 C535.18,498.10 537.62,500.00 541.00,502.00 C544.38,504.00 547.82,505.82 550.90,508.30 C553.98,510.78 556.92,513.60 559.50,516.90 C562.08,520.20 564.40,523.95 566.40,528.10 C568.40,532.25 570.08,537.23 571.50,541.80 C572.92,546.37 573.90,550.63 574.90,555.50 C575.90,560.37 576.63,566.42 577.50,571.00 C578.37,575.58 578.82,579.45 580.10,583.00 C581.38,586.55 582.72,590.22 585.20,592.30 C587.68,594.38 593.37,594.97 595.00,595.50" fill="none" stroke="#a2b290" stroke-opacity="0.85" stroke-width="5"/>
<path d="M467.50,530.50 C472.30,530.52 488.63,530.60 496.30,530.60 C503.97,530.60 507.78,530.02 513.50,530.50 C519.22,530.98 525.85,532.33 530.60,533.50 C535.35,534.67 538.62,535.97 542.00,537.50 C545.38,539.03 547.98,540.55 550.90,542.70 C553.82,544.85 556.63,547.40 559.50,550.40 C562.37,553.40 565.82,556.98 568.10,560.70 C570.38,564.42 571.77,568.70 573.20,572.70 C574.63,576.70 575.57,581.82 576.70,584.70 C577.83,587.58 579.45,589.12 580.00,590.00" fill="none" stroke="#a8a8f5" stroke-opacity="0.85" stroke-width="5"/>
<clipPath id="cle"><rect x="467.1" y="412.0" width="222.89999999999998" height="212.5"/></clipPath><g clip-path="url(#cle)">
<line x1="468.00" y1="445.00" x2="468.00" y2="530.00" stroke="#9dd39d" stroke-width="1" />
<line x1="465.50" y1="445.00" x2="470.50" y2="445.00" stroke="#9dd39d" stroke-width="1" />
<line x1="471.00" y1="440.00" x2="471.00" y2="530.00" stroke="#9dd39d" stroke-width="1" />
<line x1="468.50" y1="440.00" x2="473.50" y2="440.00" stroke="#9dd39d" stroke-width="1" />
<line x1="474.00" y1="448.00" x2="474.00" y2="525.00" stroke="#9dd39d" stroke-width="1" />
<line x1="471.50" y1="448.00" x2="476.50" y2="448.00" stroke="#9dd39d" stroke-width="1" />
<line x1="477.00" y1="450.00" x2="477.00" y2="520.00" stroke="#9dd39d" stroke-width="1" />
<line x1="474.50" y1="450.00" x2="479.50" y2="450.00" stroke="#9dd39d" stroke-width="1" />
<line x1="482.90" y1="426.00" x2="482.90" y2="500.00" stroke="#9dd39d" stroke-width="1" />
<line x1="480.40" y1="426.00" x2="485.40" y2="426.00" stroke="#9dd39d" stroke-width="1" />
<line x1="487.50" y1="470.00" x2="487.50" y2="520.00" stroke="#9dd39d" stroke-width="1" />
<line x1="485.00" y1="470.00" x2="490.00" y2="470.00" stroke="#9dd39d" stroke-width="1" />
<line x1="493.60" y1="456.00" x2="493.60" y2="530.00" stroke="#9dd39d" stroke-width="1" />
<line x1="491.10" y1="456.00" x2="496.10" y2="456.00" stroke="#9dd39d" stroke-width="1" />
<line x1="510.80" y1="428.60" x2="510.80" y2="500.00" stroke="#9dd39d" stroke-width="1" />
<line x1="508.30" y1="428.60" x2="513.30" y2="428.60" stroke="#9dd39d" stroke-width="1" />
<line x1="532.00" y1="483.00" x2="532.00" y2="524.00" stroke="#9dd39d" stroke-width="1" />
<line x1="529.50" y1="483.00" x2="534.50" y2="483.00" stroke="#9dd39d" stroke-width="1" />
<line x1="548.80" y1="482.00" x2="548.80" y2="524.00" stroke="#9dd39d" stroke-width="1" />
<line x1="546.30" y1="482.00" x2="551.30" y2="482.00" stroke="#9dd39d" stroke-width="1" />
<line x1="562.30" y1="500.00" x2="562.30" y2="522.00" stroke="#9dd39d" stroke-width="1" />
<line x1="559.80" y1="500.00" x2="564.80" y2="500.00" stroke="#9dd39d" stroke-width="1" />
<line x1="470.00" y1="518.00" x2="470.00" y2="545.00" stroke="#8888ee" stroke-width="1" />
<line x1="482.90" y1="515.00" x2="482.90" y2="538.00" stroke="#8888ee" stroke-width="1" />
<line x1="493.60" y1="520.00" x2="493.60" y2="543.00" stroke="#8888ee" stroke-width="1" />
<line x1="510.80" y1="505.00" x2="510.80" y2="535.00" stroke="#8888ee" stroke-width="1" />
<line x1="548.80" y1="525.00" x2="548.80" y2="540.00" stroke="#8888ee" stroke-width="1" />
<rect x="465.8" y="535.0" width="7.2" height="7.2" fill="none" stroke="#1414f0" stroke-width="1.7"/>
<rect x="465.3" y="525.9" width="7.2" height="7.2" fill="none" stroke="#1414f0" stroke-width="1.7"/>
<rect x="471.0" y="523.6" width="7.2" height="7.2" fill="none" stroke="#1414f0" stroke-width="1.7"/>
<rect x="474.4" y="528.2" width="7.2" height="7.2" fill="none" stroke="#1414f0" stroke-width="1.7"/>
<rect x="479.0" y="521.3" width="7.2" height="7.2" fill="none" stroke="#1414f0" stroke-width="1.7"/>
<rect x="484.1" y="524.8" width="7.2" height="7.2" fill="none" stroke="#1414f0" stroke-width="1.7"/>
<rect x="489.9" y="527.6" width="7.2" height="7.2" fill="none" stroke="#1414f0" stroke-width="1.7"/>
<rect x="507.0" y="516.2" width="7.2" height="7.2" fill="none" stroke="#1414f0" stroke-width="1.7"/>
<rect x="528.4" y="537.8" width="7.2" height="7.2" fill="none" stroke="#1414f0" stroke-width="1.7"/>
<rect x="545.2" y="528.4" width="7.2" height="7.2" fill="none" stroke="#1414f0" stroke-width="1.7"/>
<rect x="545.6" y="545.6" width="7.2" height="7.2" fill="none" stroke="#1414f0" stroke-width="1.7"/>
<rect x="557.1" y="545.1" width="7.2" height="7.2" fill="none" stroke="#1414f0" stroke-width="1.7"/>
<rect x="557.1" y="549.7" width="7.2" height="7.2" fill="none" stroke="#1414f0" stroke-width="1.7"/>
<rect x="562.7" y="558.1" width="7.2" height="7.2" fill="none" stroke="#1414f0" stroke-width="1.7"/>
<rect x="569.6" y="566.8" width="7.2" height="7.2" fill="none" stroke="#1414f0" stroke-width="1.7"/>
<rect x="570.7" y="572.5" width="7.2" height="7.2" fill="none" stroke="#1414f0" stroke-width="1.7"/>
<rect x="573.0" y="578.3" width="7.2" height="7.2" fill="none" stroke="#1414f0" stroke-width="1.7"/>
<rect x="576.4" y="584.0" width="7.2" height="7.2" fill="none" stroke="#1414f0" stroke-width="1.7"/>
<rect x="583.4" y="585.8" width="7.2" height="7.2" fill="none" stroke="#1414f0" stroke-width="1.7"/>
<rect x="589.7" y="585.1" width="7.2" height="7.2" fill="none" stroke="#1414f0" stroke-width="1.7"/>
<rect x="597.1" y="587.9" width="7.2" height="7.2" fill="none" stroke="#1414f0" stroke-width="1.7"/>
<rect x="616.1" y="584.0" width="7.2" height="7.2" fill="none" stroke="#1414f0" stroke-width="1.7"/>
<rect x="638.9" y="588.6" width="7.2" height="7.2" fill="none" stroke="#1414f0" stroke-width="1.7"/>
<rect x="654.7" y="588.6" width="7.2" height="7.2" fill="none" stroke="#1414f0" stroke-width="1.7"/>
<rect x="674.2" y="587.9" width="7.2" height="7.2" fill="none" stroke="#1414f0" stroke-width="1.7"/>
<circle cx="468.9" cy="502.0" r="3.8" fill="none" stroke="#1e961e" stroke-width="1.8"/>
<circle cx="469.0" cy="488.3" r="3.8" fill="none" stroke="#1e961e" stroke-width="1.8"/>
<circle cx="472.5" cy="488.3" r="3.8" fill="none" stroke="#1e961e" stroke-width="1.8"/>
<circle cx="476.0" cy="488.3" r="3.8" fill="none" stroke="#1e961e" stroke-width="1.8"/>
<circle cx="479.5" cy="488.3" r="3.8" fill="none" stroke="#1e961e" stroke-width="1.8"/>
<circle cx="482.9" cy="464.7" r="3.8" fill="none" stroke="#1e961e" stroke-width="1.8"/>
<circle cx="510.8" cy="464.0" r="3.8" fill="none" stroke="#1e961e" stroke-width="1.8"/>
<circle cx="487.7" cy="495.7" r="3.8" fill="none" stroke="#1e961e" stroke-width="1.8"/>
<circle cx="493.5" cy="493.5" r="3.8" fill="none" stroke="#1e961e" stroke-width="1.8"/>
<circle cx="531.8" cy="502.6" r="3.8" fill="none" stroke="#1e961e" stroke-width="1.8"/>
<circle cx="548.8" cy="502.9" r="3.8" fill="none" stroke="#1e961e" stroke-width="1.8"/>
<circle cx="549.2" cy="513.2" r="3.8" fill="none" stroke="#1e961e" stroke-width="1.8"/>
<circle cx="561.7" cy="511.4" r="3.8" fill="none" stroke="#1e961e" stroke-width="1.8"/>
<circle cx="561.0" cy="526.5" r="3.8" fill="none" stroke="#1e961e" stroke-width="1.8"/>
<circle cx="567.0" cy="549.4" r="3.8" fill="none" stroke="#1e961e" stroke-width="1.8"/>
<circle cx="574.3" cy="566.5" r="3.8" fill="none" stroke="#1e961e" stroke-width="1.8"/>
<circle cx="575.5" cy="580.0" r="3.8" fill="none" stroke="#1e961e" stroke-width="1.8"/>
<circle cx="576.0" cy="585.0" r="3.8" fill="none" stroke="#1e961e" stroke-width="1.8"/>
<circle cx="577.0" cy="590.0" r="3.8" fill="none" stroke="#1e961e" stroke-width="1.8"/>
<circle cx="582.3" cy="593.3" r="3.8" fill="none" stroke="#1e961e" stroke-width="1.8"/>
<circle cx="588.0" cy="595.6" r="3.8" fill="none" stroke="#1e961e" stroke-width="1.8"/>
<circle cx="593.3" cy="597.9" r="3.8" fill="none" stroke="#1e961e" stroke-width="1.8"/>
<circle cx="600.7" cy="598.3" r="3.8" fill="none" stroke="#1e961e" stroke-width="1.8"/>
<circle cx="619.7" cy="595.6" r="3.8" fill="none" stroke="#1e961e" stroke-width="1.8"/>
<circle cx="642.5" cy="597.9" r="3.8" fill="none" stroke="#1e961e" stroke-width="1.8"/>
<circle cx="658.3" cy="596.7" r="3.8" fill="none" stroke="#1e961e" stroke-width="1.8"/>
<circle cx="677.8" cy="596.7" r="3.8" fill="none" stroke="#1e961e" stroke-width="1.8"/>
</g>
<rect x="467.1" y="412.0" width="222.89999999999998" height="212.5" fill="none" stroke="#222" stroke-width="1.6"/>
<rect x="484.5" y="560.1" width="7.2" height="7.2" fill="none" stroke="#1414f0" stroke-width="1.7"/>
<circle cx="488.2" cy="581.0" r="3.8" fill="none" stroke="#1e961e" stroke-width="1.8"/>
<text x="507.20" y="568.70" font-size="14" text-anchor="start" fill="#000" >La(1)a</text>
<text x="507.20" y="585.40" font-size="14" text-anchor="start" fill="#000" >La(1)b</text>
<path d="M1026.00,608.30 C1029.17,600.25 1038.03,573.73 1045.00,560.00 C1051.97,546.27 1060.63,535.88 1067.80,525.90 C1074.97,515.92 1079.97,508.68 1088.00,500.10 C1096.03,491.52 1101.60,483.92 1116.00,474.40 C1130.40,464.88 1156.80,450.82 1174.40,443.00 C1192.00,435.18 1205.87,432.27 1221.60,427.50 C1237.33,422.73 1254.07,417.90 1268.80,414.40 C1283.53,410.90 1293.30,408.48 1310.00,406.50 C1326.70,404.52 1344.90,403.20 1369.00,402.50 C1393.10,401.80 1440.33,402.33 1454.60,402.30" fill="none" stroke="#fdb0b3" stroke-width="18.5"/>
<path d="M809,167.5 L928.5,139" fill="none" stroke="#b5b5b5" stroke-width="5"/>
<path d="M813.50,197.50 C815.38,200.00 818.78,202.00 824.80,212.50 C830.82,223.00 842.17,246.77 849.60,260.50 C857.03,274.23 863.73,284.98 869.40,294.90 C875.07,304.82 877.83,309.15 883.60,320.00 C889.37,330.85 899.15,350.00 904.00,360.00 C908.85,370.00 909.20,372.00 912.70,380.00 C916.20,388.00 921.05,398.47 925.00,408.00 C928.95,417.53 934.50,432.33 936.40,437.20" fill="none" stroke="#b0b0fa" stroke-width="6"/>
<line x1="809.20" y1="626.30" x2="809.20" y2="616.30" stroke="#000" stroke-width="2" />
<line x1="809.20" y1="14.70" x2="809.20" y2="24.70" stroke="#000" stroke-width="2" />
<text x="809.20" y="655.60" font-size="25.5" text-anchor="middle" fill="#000" >0</text>
<line x1="971.18" y1="626.30" x2="971.18" y2="616.30" stroke="#000" stroke-width="2" />
<line x1="971.18" y1="14.70" x2="971.18" y2="24.70" stroke="#000" stroke-width="2" />
<text x="971.18" y="655.60" font-size="25.5" text-anchor="middle" fill="#000" >5</text>
<line x1="1133.15" y1="626.30" x2="1133.15" y2="616.30" stroke="#000" stroke-width="2" />
<line x1="1133.15" y1="14.70" x2="1133.15" y2="24.70" stroke="#000" stroke-width="2" />
<text x="1133.15" y="655.60" font-size="25.5" text-anchor="middle" fill="#000" >10</text>
<line x1="1295.12" y1="626.30" x2="1295.12" y2="616.30" stroke="#000" stroke-width="2" />
<line x1="1295.12" y1="14.70" x2="1295.12" y2="24.70" stroke="#000" stroke-width="2" />
<text x="1295.12" y="655.60" font-size="25.5" text-anchor="middle" fill="#000" >15</text>
<line x1="1457.10" y1="626.30" x2="1457.10" y2="616.30" stroke="#000" stroke-width="2" />
<line x1="1457.10" y1="14.70" x2="1457.10" y2="24.70" stroke="#000" stroke-width="2" />
<text x="1454.70" y="655.60" font-size="25.5" text-anchor="middle" fill="#000" >20</text>
<line x1="890.19" y1="626.30" x2="890.19" y2="621.30" stroke="#000" stroke-width="2" />
<line x1="890.19" y1="14.70" x2="890.19" y2="19.70" stroke="#000" stroke-width="2" />
<line x1="1052.16" y1="626.30" x2="1052.16" y2="621.30" stroke="#000" stroke-width="2" />
<line x1="1052.16" y1="14.70" x2="1052.16" y2="19.70" stroke="#000" stroke-width="2" />
<line x1="1214.14" y1="626.30" x2="1214.14" y2="621.30" stroke="#000" stroke-width="2" />
<line x1="1214.14" y1="14.70" x2="1214.14" y2="19.70" stroke="#000" stroke-width="2" />
<line x1="1376.11" y1="626.30" x2="1376.11" y2="621.30" stroke="#000" stroke-width="2" />
<line x1="1376.11" y1="14.70" x2="1376.11" y2="19.70" stroke="#000" stroke-width="2" />
<line x1="809.20" y1="626.30" x2="819.20" y2="626.30" stroke="#000" stroke-width="2" />
<line x1="1457.10" y1="626.30" x2="1447.10" y2="626.30" stroke="#000" stroke-width="2" />
<text x="801.00" y="632.90" font-size="25.5" text-anchor="end" fill="#000" >0</text>
<line x1="809.20" y1="473.40" x2="819.20" y2="473.40" stroke="#000" stroke-width="2" />
<line x1="1457.10" y1="473.40" x2="1447.10" y2="473.40" stroke="#000" stroke-width="2" />
<text x="801.00" y="480.00" font-size="25.5" text-anchor="end" fill="#000" >50</text>
<line x1="809.20" y1="320.50" x2="819.20" y2="320.50" stroke="#000" stroke-width="2" />
<line x1="1457.10" y1="320.50" x2="1447.10" y2="320.50" stroke="#000" stroke-width="2" />
<text x="801.00" y="327.10" font-size="25.5" text-anchor="end" fill="#000" >100</text>
<line x1="809.20" y1="167.60" x2="819.20" y2="167.60" stroke="#000" stroke-width="2" />
<line x1="1457.10" y1="167.60" x2="1447.10" y2="167.60" stroke="#000" stroke-width="2" />
<text x="801.00" y="174.20" font-size="25.5" text-anchor="end" fill="#000" >150</text>
<line x1="809.20" y1="14.70" x2="819.20" y2="14.70" stroke="#000" stroke-width="2" />
<line x1="1457.10" y1="14.70" x2="1447.10" y2="14.70" stroke="#000" stroke-width="2" />
<text x="801.00" y="21.30" font-size="25.5" text-anchor="end" fill="#000" >200</text>
<line x1="809.20" y1="549.85" x2="814.20" y2="549.85" stroke="#000" stroke-width="2" />
<line x1="1457.10" y1="549.85" x2="1452.10" y2="549.85" stroke="#000" stroke-width="2" />
<line x1="809.20" y1="396.95" x2="814.20" y2="396.95" stroke="#000" stroke-width="2" />
<line x1="1457.10" y1="396.95" x2="1452.10" y2="396.95" stroke="#000" stroke-width="2" />
<line x1="809.20" y1="244.05" x2="814.20" y2="244.05" stroke="#000" stroke-width="2" />
<line x1="1457.10" y1="244.05" x2="1452.10" y2="244.05" stroke="#000" stroke-width="2" />
<line x1="809.20" y1="91.15" x2="814.20" y2="91.15" stroke="#000" stroke-width="2" />
<line x1="1457.10" y1="91.15" x2="1452.10" y2="91.15" stroke="#000" stroke-width="2" />
<rect x="809.2" y="14.7" width="647.8999999999999" height="611.5999999999999" fill="none" stroke="#000" stroke-width="2"/>
<text x="1132.5" y="689.3" font-size="28" text-anchor="middle"><tspan font-style="italic">p</tspan> (GPa)</text>
<text transform="translate(741.00,320.30) rotate(-90)" font-size="26.5" text-anchor="middle" ><tspan font-style="italic">T</tspan><tspan font-size="17" dy="7.5">SDW</tspan><tspan dy="-7.5">,  </tspan><tspan font-style="italic" dx="6">T</tspan><tspan font-size="18" dy="7.5">DW</tspan><tspan dy="-7.5">,  </tspan><tspan font-style="italic" dx="4.5">T</tspan><tspan font-size="18" dy="7.5">c</tspan><tspan font-size="18.5" dy="-18.5" dx="-2">onset</tspan><tspan dy="11"> (K)</tspan></text>
<text x="829.40" y="57.50" font-size="36" font-family='"Liberation Serif", serif' stroke="#fff" stroke-width="0.4">(f)</text>
<text x="848" y="114" font-size="34" font-weight="bold" font-style="italic">T</text><text x="865.5" y="122.8" font-size="22" font-weight="bold">SDW</text>
<text x="847" y="373.6" font-size="34" font-weight="bold" font-style="italic" fill="#0a0af5">T</text><text x="865.5" y="382.8" font-size="22" font-weight="bold" fill="#0a0af5">DW</text>
<text x="1136" y="358.6" font-size="34" font-weight="bold" font-style="italic" fill="#f21010">T</text><text x="1154.3" y="367.2" font-size="22" font-weight="bold" fill="#f21010">c</text><text x="1160.4" y="345.2" font-size="22" font-weight="bold" fill="#f21010">onset</text>
<clipPath id="clf"><rect x="809.2" y="14.7" width="647.8999999999999" height="611.5999999999999"/></clipPath><g clip-path="url(#clf)">
<circle cx="809.0" cy="171.4" r="7.2" fill="#000"/>
<circle cx="850.0" cy="167.9" r="7.2" fill="#000"/>
<circle cx="884.0" cy="152.1" r="7.2" fill="#000"/>
<circle cx="809.0" cy="163.9" r="7.2" fill="#f00"/>
<circle cx="850.0" cy="155.7" r="7.2" fill="#f00"/>
<circle cx="884.0" cy="148.7" r="7.2" fill="#f00"/>
<g fill="#fff"><path d="M811.00,185.60 L817.32,189.25 L817.32,196.55 L811.00,200.20 L804.68,196.55 L804.68,189.25Z"/></g><g fill="#000"><svg x="799.00" y="192.90" width="24" height="12" viewBox="799.00 192.90 24 12" overflow="hidden"><path d="M811.00,185.60 L817.32,189.25 L817.32,196.55 L811.00,200.20 L804.68,196.55 L804.68,189.25Z"/></svg></g><g fill="none" stroke="#000" stroke-width="1.4"><path d="M811.00,185.60 L817.32,189.25 L817.32,196.55 L811.00,200.20 L804.68,196.55 L804.68,189.25Z"/></g>
<g fill="#fff"><circle cx="811.00" cy="212.90" r="6.7"/></g><g fill="#000"><svg x="799.00" y="212.90" width="24" height="12" viewBox="799.00 212.90 24 12" overflow="hidden"><circle cx="811.00" cy="212.90" r="6.7"/></svg></g><g fill="none" stroke="#000" stroke-width="1.4"><circle cx="811.00" cy="212.90" r="6.7"/></g>
<g fill="#fff"><path d="M812.00,226.50 L819.90,240.30 L804.10,240.30Z"/></g><g fill="#000"><svg x="800.00" y="235.70" width="24" height="12" viewBox="800.00 235.70 24 12" overflow="hidden"><path d="M812.00,226.50 L819.90,240.30 L804.10,240.30Z"/></svg></g><g fill="none" stroke="#000" stroke-width="1.4"><path d="M812.00,226.50 L819.90,240.30 L804.10,240.30Z"/></g>
<g fill="#fff"><rect x="819.40" y="191.50" width="11.2" height="11.2"/></g><g fill="#000"><svg x="813.00" y="197.10" width="24" height="12" viewBox="813.00 197.10 24 12" overflow="hidden"><rect x="819.40" y="191.50" width="11.2" height="11.2"/></svg></g><g fill="none" stroke="#000" stroke-width="1.4"><rect x="819.40" y="191.50" width="11.2" height="11.2"/></g>
<g fill="#fff"><path d="M822.90,195.60 L829.22,199.25 L829.22,206.55 L822.90,210.20 L816.58,206.55 L816.58,199.25Z"/></g><g fill="#000"><svg x="810.90" y="202.90" width="24" height="12" viewBox="810.90 202.90 24 12" overflow="hidden"><path d="M822.90,195.60 L829.22,199.25 L829.22,206.55 L822.90,210.20 L816.58,206.55 L816.58,199.25Z"/></svg></g><g fill="none" stroke="#000" stroke-width="1.4"><path d="M822.90,195.60 L829.22,199.25 L829.22,206.55 L822.90,210.20 L816.58,206.55 L816.58,199.25Z"/></g>
<g fill="#fff"><rect x="835.80" y="225.80" width="11.2" height="11.2"/></g><g fill="#000"><svg x="829.40" y="231.40" width="24" height="12" viewBox="829.40 231.40 24 12" overflow="hidden"><rect x="835.80" y="225.80" width="11.2" height="11.2"/></svg></g><g fill="none" stroke="#000" stroke-width="1.4"><rect x="835.80" y="225.80" width="11.2" height="11.2"/></g>
<g fill="#fff"><path d="M843.60,240.50 L849.92,244.15 L849.92,251.45 L843.60,255.10 L837.28,251.45 L837.28,244.15Z"/></g><g fill="#000"><svg x="831.60" y="247.80" width="24" height="12" viewBox="831.60 247.80 24 12" overflow="hidden"><path d="M843.60,240.50 L849.92,244.15 L849.92,251.45 L843.60,255.10 L837.28,251.45 L837.28,244.15Z"/></svg></g><g fill="none" stroke="#000" stroke-width="1.4"><path d="M843.60,240.50 L849.92,244.15 L849.92,251.45 L843.60,255.10 L837.28,251.45 L837.28,244.15Z"/></g>
<g fill="#fff"><path d="M833.20,254.60 L841.10,268.40 L825.30,268.40Z"/></g><g fill="#000"><svg x="821.20" y="263.80" width="24" height="12" viewBox="821.20 263.80 24 12" overflow="hidden"><path d="M833.20,254.60 L841.10,268.40 L825.30,268.40Z"/></svg></g><g fill="none" stroke="#000" stroke-width="1.4"><path d="M833.20,254.60 L841.10,268.40 L825.30,268.40Z"/></g>
<g fill="#fff"><path d="M836.60,264.90 L844.50,278.70 L828.70,278.70Z"/></g><g fill="#000"><svg x="824.60" y="274.10" width="24" height="12" viewBox="824.60 274.10 24 12" overflow="hidden"><path d="M836.60,264.90 L844.50,278.70 L828.70,278.70Z"/></svg></g><g fill="none" stroke="#000" stroke-width="1.4"><path d="M836.60,264.90 L844.50,278.70 L828.70,278.70Z"/></g>
<g fill="#fff"><circle cx="841.20" cy="284.40" r="6.7"/></g><g fill="#000"><svg x="829.20" y="284.40" width="24" height="12" viewBox="829.20 284.40 24 12" overflow="hidden"><circle cx="841.20" cy="284.40" r="6.7"/></svg></g><g fill="none" stroke="#000" stroke-width="1.4"><circle cx="841.20" cy="284.40" r="6.7"/></g>
<g fill="#fff"><path d="M844.60,274.10 L852.50,287.90 L836.70,287.90Z"/></g><g fill="#000"><svg x="832.60" y="283.30" width="24" height="12" viewBox="832.60 283.30 24 12" overflow="hidden"><path d="M844.60,274.10 L852.50,287.90 L836.70,287.90Z"/></svg></g><g fill="none" stroke="#000" stroke-width="1.4"><path d="M844.60,274.10 L852.50,287.90 L836.70,287.90Z"/></g>
<g fill="#fff"><rect x="851.60" y="265.10" width="11.2" height="11.2"/></g><g fill="#000"><svg x="845.20" y="270.70" width="24" height="12" viewBox="845.20 270.70 24 12" overflow="hidden"><rect x="851.60" y="265.10" width="11.2" height="11.2"/></svg></g><g fill="none" stroke="#000" stroke-width="1.4"><rect x="851.60" y="265.10" width="11.2" height="11.2"/></g>
<g fill="#fff"><path d="M858.40,271.40 L864.72,275.05 L864.72,282.35 L858.40,286.00 L852.08,282.35 L852.08,275.05Z"/></g><g fill="#000"><svg x="846.40" y="278.70" width="24" height="12" viewBox="846.40 278.70 24 12" overflow="hidden"><path d="M858.40,271.40 L864.72,275.05 L864.72,282.35 L858.40,286.00 L852.08,282.35 L852.08,275.05Z"/></svg></g><g fill="none" stroke="#000" stroke-width="1.4"><path d="M858.40,271.40 L864.72,275.05 L864.72,282.35 L858.40,286.00 L852.08,282.35 L852.08,275.05Z"/></g>
<g fill="#fff"><path d="M865.20,273.70 L871.52,277.35 L871.52,284.65 L865.20,288.30 L858.88,284.65 L858.88,277.35Z"/></g><g fill="#000"><svg x="853.20" y="281.00" width="24" height="12" viewBox="853.20 281.00 24 12" overflow="hidden"><path d="M865.20,273.70 L871.52,277.35 L871.52,284.65 L865.20,288.30 L858.88,284.65 L858.88,277.35Z"/></svg></g><g fill="none" stroke="#000" stroke-width="1.4"><path d="M865.20,273.70 L871.52,277.35 L871.52,284.65 L865.20,288.30 L858.88,284.65 L858.88,277.35Z"/></g>
<g fill="#fff"><circle cx="856.10" cy="305.00" r="6.7"/></g><g fill="#000"><svg x="844.10" y="305.00" width="24" height="12" viewBox="844.10 305.00 24 12" overflow="hidden"><circle cx="856.10" cy="305.00" r="6.7"/></svg></g><g fill="none" stroke="#000" stroke-width="1.4"><circle cx="856.10" cy="305.00" r="6.7"/></g>
<g fill="#fff"><path d="M856.10,295.80 L864.00,309.60 L848.20,309.60Z"/></g><g fill="#000"><svg x="844.10" y="305.00" width="24" height="12" viewBox="844.10 305.00 24 12" overflow="hidden"><path d="M856.10,295.80 L864.00,309.60 L848.20,309.60Z"/></svg></g><g fill="none" stroke="#000" stroke-width="1.4"><path d="M856.10,295.80 L864.00,309.60 L848.20,309.60Z"/></g>
<g fill="#fff"><rect x="867.60" y="298.30" width="11.2" height="11.2"/></g><g fill="#000"><svg x="861.20" y="303.90" width="24" height="12" viewBox="861.20 303.90 24 12" overflow="hidden"><rect x="867.60" y="298.30" width="11.2" height="11.2"/></svg></g><g fill="none" stroke="#000" stroke-width="1.4"><rect x="867.60" y="298.30" width="11.2" height="11.2"/></g>
<g fill="#fff"><path d="M881.30,301.90 L887.62,305.55 L887.62,312.85 L881.30,316.50 L874.98,312.85 L874.98,305.55Z"/></g><g fill="#000"><svg x="869.30" y="309.20" width="24" height="12" viewBox="869.30 309.20 24 12" overflow="hidden"><path d="M881.30,301.90 L887.62,305.55 L887.62,312.85 L881.30,316.50 L874.98,312.85 L874.98,305.55Z"/></svg></g><g fill="none" stroke="#000" stroke-width="1.4"><path d="M881.30,301.90 L887.62,305.55 L887.62,312.85 L881.30,316.50 L874.98,312.85 L874.98,305.55Z"/></g>
<g fill="#fff"><path d="M905.90,334.20 L912.22,337.85 L912.22,345.15 L905.90,348.80 L899.58,345.15 L899.58,337.85Z"/></g><g fill="#000"><svg x="893.90" y="341.50" width="24" height="12" viewBox="893.90 341.50 24 12" overflow="hidden"><path d="M905.90,334.20 L912.22,337.85 L912.22,345.15 L905.90,348.80 L899.58,345.15 L899.58,337.85Z"/></svg></g><g fill="none" stroke="#000" stroke-width="1.4"><path d="M905.90,334.20 L912.22,337.85 L912.22,345.15 L905.90,348.80 L899.58,345.15 L899.58,337.85Z"/></g>
<g fill="#fff"><circle cx="1035.20" cy="523.30" r="6.7"/></g><g fill="#000"><svg x="1023.20" y="511.30" width="24" height="12" viewBox="1023.20 511.30 24 12" overflow="hidden"><circle cx="1035.20" cy="523.30" r="6.7"/></svg></g><g fill="none" stroke="#000" stroke-width="1.4"><circle cx="1035.20" cy="523.30" r="6.7"/></g>
<g fill="#fff"><circle cx="1067.40" cy="460.80" r="6.7"/></g><g fill="#000"><svg x="1055.40" y="448.80" width="24" height="12" viewBox="1055.40 448.80 24 12" overflow="hidden"><circle cx="1067.40" cy="460.80" r="6.7"/></svg></g><g fill="none" stroke="#000" stroke-width="1.4"><circle cx="1067.40" cy="460.80" r="6.7"/></g>
<g fill="#fff"><path d="M1067.40,425.20 L1073.72,428.85 L1073.72,436.15 L1067.40,439.80 L1061.08,436.15 L1061.08,428.85Z"/></g><g fill="#000"><svg x="1055.40" y="420.50" width="24" height="12" viewBox="1055.40 420.50 24 12" overflow="hidden"><path d="M1067.40,425.20 L1073.72,428.85 L1073.72,436.15 L1067.40,439.80 L1061.08,436.15 L1061.08,428.85Z"/></svg></g><g fill="none" stroke="#000" stroke-width="1.4"><path d="M1067.40,425.20 L1073.72,428.85 L1073.72,436.15 L1067.40,439.80 L1061.08,436.15 L1061.08,428.85Z"/></g>
<g fill="#fff"><circle cx="1100.00" cy="432.50" r="6.7"/></g><g fill="#000"><svg x="1088.00" y="420.50" width="24" height="12" viewBox="1088.00 420.50 24 12" overflow="hidden"><circle cx="1100.00" cy="432.50" r="6.7"/></svg></g><g fill="none" stroke="#000" stroke-width="1.4"><circle cx="1100.00" cy="432.50" r="6.7"/></g>
<g fill="#fff"><circle cx="1133.10" cy="424.30" r="6.7"/></g><g fill="#000"><svg x="1121.10" y="412.30" width="24" height="12" viewBox="1121.10 412.30 24 12" overflow="hidden"><circle cx="1133.10" cy="424.30" r="6.7"/></svg></g><g fill="none" stroke="#000" stroke-width="1.4"><circle cx="1133.10" cy="424.30" r="6.7"/></g>
<g fill="#fff"><path d="M1150.30,402.90 L1156.62,406.55 L1156.62,413.85 L1150.30,417.50 L1143.98,413.85 L1143.98,406.55Z"/></g><g fill="#000"><svg x="1138.30" y="398.20" width="24" height="12" viewBox="1138.30 398.20 24 12" overflow="hidden"><path d="M1150.30,402.90 L1156.62,406.55 L1156.62,413.85 L1150.30,417.50 L1143.98,413.85 L1143.98,406.55Z"/></svg></g><g fill="none" stroke="#000" stroke-width="1.4"><path d="M1150.30,402.90 L1156.62,406.55 L1156.62,413.85 L1150.30,417.50 L1143.98,413.85 L1143.98,406.55Z"/></g>
<g fill="#fff"><circle cx="1180.30" cy="420.90" r="6.7"/></g><g fill="#000"><svg x="1168.30" y="408.90" width="24" height="12" viewBox="1168.30 408.90 24 12" overflow="hidden"><circle cx="1180.30" cy="420.90" r="6.7"/></svg></g><g fill="none" stroke="#000" stroke-width="1.4"><circle cx="1180.30" cy="420.90" r="6.7"/></g>
<g fill="#fff"><path d="M1206.10,372.00 L1212.42,375.65 L1212.42,382.95 L1206.10,386.60 L1199.78,382.95 L1199.78,375.65Z"/></g><g fill="#000"><svg x="1194.10" y="367.30" width="24" height="12" viewBox="1194.10 367.30 24 12" overflow="hidden"><path d="M1206.10,372.00 L1212.42,375.65 L1212.42,382.95 L1206.10,386.60 L1199.78,382.95 L1199.78,375.65Z"/></svg></g><g fill="none" stroke="#000" stroke-width="1.4"><path d="M1206.10,372.00 L1212.42,375.65 L1212.42,382.95 L1206.10,386.60 L1199.78,382.95 L1199.78,375.65Z"/></g>
<g fill="#fff"><circle cx="1213.40" cy="416.60" r="6.7"/></g><g fill="#000"><svg x="1201.40" y="404.60" width="24" height="12" viewBox="1201.40 404.60 24 12" overflow="hidden"><circle cx="1213.40" cy="416.60" r="6.7"/></svg></g><g fill="none" stroke="#000" stroke-width="1.4"><circle cx="1213.40" cy="416.60" r="6.7"/></g>
<g fill="#fff"><path d="M1134.00,565.60 L1142.60,574.20 L1134.00,582.80 L1125.40,574.20Z"/></g><g fill="#000"><svg x="1122.00" y="562.20" width="24" height="12" viewBox="1122.00 562.20 24 12" overflow="hidden"><path d="M1134.00,565.60 L1142.60,574.20 L1134.00,582.80 L1125.40,574.20Z"/></svg></g><g fill="none" stroke="#000" stroke-width="1.4"><path d="M1134.00,565.60 L1142.60,574.20 L1134.00,582.80 L1125.40,574.20Z"/></g>
<g fill="#fff"><rect x="1164.90" y="560.00" width="11.2" height="11.2"/></g><g fill="#000"><svg x="1158.50" y="553.60" width="24" height="12" viewBox="1158.50 553.60 24 12" overflow="hidden"><rect x="1164.90" y="560.00" width="11.2" height="11.2"/></svg></g><g fill="none" stroke="#000" stroke-width="1.4"><rect x="1164.90" y="560.00" width="11.2" height="11.2"/></g>
<g fill="#fff"><path d="M1197.50,508.90 L1206.10,517.50 L1197.50,526.10 L1188.90,517.50Z"/></g><g fill="#000"><svg x="1185.50" y="505.50" width="24" height="12" viewBox="1185.50 505.50 24 12" overflow="hidden"><path d="M1197.50,508.90 L1206.10,517.50 L1197.50,526.10 L1188.90,517.50Z"/></svg></g><g fill="none" stroke="#000" stroke-width="1.4"><path d="M1197.50,508.90 L1206.10,517.50 L1197.50,526.10 L1188.90,517.50Z"/></g>
<g fill="#fff"><path d="M1197.50,522.60 L1206.10,531.20 L1197.50,539.80 L1188.90,531.20Z"/></g><g fill="#000"><svg x="1185.50" y="519.20" width="24" height="12" viewBox="1185.50 519.20 24 12" overflow="hidden"><path d="M1197.50,522.60 L1206.10,531.20 L1197.50,539.80 L1188.90,531.20Z"/></svg></g><g fill="none" stroke="#000" stroke-width="1.4"><path d="M1197.50,522.60 L1206.10,531.20 L1197.50,539.80 L1188.90,531.20Z"/></g>
<g fill="#fff"><path d="M1225.40,490.90 L1234.00,499.50 L1225.40,508.10 L1216.80,499.50Z"/></g><g fill="#000"><svg x="1213.40" y="487.50" width="24" height="12" viewBox="1213.40 487.50 24 12" overflow="hidden"><path d="M1225.40,490.90 L1234.00,499.50 L1225.40,508.10 L1216.80,499.50Z"/></svg></g><g fill="none" stroke="#000" stroke-width="1.4"><path d="M1225.40,490.90 L1234.00,499.50 L1225.40,508.10 L1216.80,499.50Z"/></g>
<g fill="#fff"><path d="M1261.50,369.30 L1267.82,372.95 L1267.82,380.25 L1261.50,383.90 L1255.18,380.25 L1255.18,372.95Z"/></g><g fill="#000"><svg x="1249.50" y="364.60" width="24" height="12" viewBox="1249.50 364.60 24 12" overflow="hidden"><path d="M1261.50,369.30 L1267.82,372.95 L1267.82,380.25 L1261.50,383.90 L1255.18,380.25 L1255.18,372.95Z"/></svg></g><g fill="none" stroke="#000" stroke-width="1.4"><path d="M1261.50,369.30 L1267.82,372.95 L1267.82,380.25 L1261.50,383.90 L1255.18,380.25 L1255.18,372.95Z"/></g>
<g fill="#fff"><path d="M1264.20,381.60 L1272.10,395.40 L1256.30,395.40Z"/></g><g fill="#000"><svg x="1252.20" y="378.80" width="24" height="12" viewBox="1252.20 378.80 24 12" overflow="hidden"><path d="M1264.20,381.60 L1272.10,395.40 L1256.30,395.40Z"/></svg></g><g fill="none" stroke="#000" stroke-width="1.4"><path d="M1264.20,381.60 L1272.10,395.40 L1256.30,395.40Z"/></g>
<g fill="#fff"><circle cx="1246.00" cy="417.00" r="6.7"/></g><g fill="#000"><svg x="1234.00" y="405.00" width="24" height="12" viewBox="1234.00 405.00 24 12" overflow="hidden"><circle cx="1246.00" cy="417.00" r="6.7"/></svg></g><g fill="none" stroke="#000" stroke-width="1.4"><circle cx="1246.00" cy="417.00" r="6.7"/></g>
<g fill="#fff"><path d="M1255.00,408.40 L1263.60,417.00 L1255.00,425.60 L1246.40,417.00Z"/></g><g fill="#000"><svg x="1243.00" y="405.00" width="24" height="12" viewBox="1243.00 405.00 24 12" overflow="hidden"><path d="M1255.00,408.40 L1263.60,417.00 L1255.00,425.60 L1246.40,417.00Z"/></svg></g><g fill="none" stroke="#000" stroke-width="1.4"><path d="M1255.00,408.40 L1263.60,417.00 L1255.00,425.60 L1246.40,417.00Z"/></g>
<g fill="#fff"><circle cx="1278.40" cy="407.50" r="6.7"/></g><g fill="#000"><svg x="1266.40" y="395.50" width="24" height="12" viewBox="1266.40 395.50 24 12" overflow="hidden"><circle cx="1278.40" cy="407.50" r="6.7"/></svg></g><g fill="none" stroke="#000" stroke-width="1.4"><circle cx="1278.40" cy="407.50" r="6.7"/></g>
<g fill="#fff"><path d="M1247.60,446.40 L1256.20,455.00 L1247.60,463.60 L1239.00,455.00Z"/></g><g fill="#000"><svg x="1235.60" y="443.00" width="24" height="12" viewBox="1235.60 443.00 24 12" overflow="hidden"><path d="M1247.60,446.40 L1256.20,455.00 L1247.60,463.60 L1239.00,455.00Z"/></svg></g><g fill="none" stroke="#000" stroke-width="1.4"><path d="M1247.60,446.40 L1256.20,455.00 L1247.60,463.60 L1239.00,455.00Z"/></g>
<g fill="#fff"><path d="M1260.00,441.40 L1268.60,450.00 L1260.00,458.60 L1251.40,450.00Z"/></g><g fill="#000"><svg x="1248.00" y="438.00" width="24" height="12" viewBox="1248.00 438.00 24 12" overflow="hidden"><path d="M1260.00,441.40 L1268.60,450.00 L1260.00,458.60 L1251.40,450.00Z"/></svg></g><g fill="none" stroke="#000" stroke-width="1.4"><path d="M1260.00,441.40 L1268.60,450.00 L1260.00,458.60 L1251.40,450.00Z"/></g>
<g fill="#fff"><rect x="1242.40" y="460.40" width="11.2" height="11.2"/></g><g fill="#000"><svg x="1236.00" y="454.00" width="24" height="12" viewBox="1236.00 454.00 24 12" overflow="hidden"><rect x="1242.40" y="460.40" width="11.2" height="11.2"/></svg></g><g fill="none" stroke="#000" stroke-width="1.4"><rect x="1242.40" y="460.40" width="11.2" height="11.2"/></g>
<g fill="#fff"><rect x="1243.40" y="467.40" width="11.2" height="11.2"/></g><g fill="#000"><svg x="1237.00" y="461.00" width="24" height="12" viewBox="1237.00 461.00 24 12" overflow="hidden"><rect x="1243.40" y="467.40" width="11.2" height="11.2"/></svg></g><g fill="none" stroke="#000" stroke-width="1.4"><rect x="1243.40" y="467.40" width="11.2" height="11.2"/></g>
<g fill="#fff"><path d="M1298.80,403.30 L1306.70,417.10 L1290.90,417.10Z"/></g><g fill="#000"><svg x="1286.80" y="400.50" width="24" height="12" viewBox="1286.80 400.50 24 12" overflow="hidden"><path d="M1298.80,403.30 L1306.70,417.10 L1290.90,417.10Z"/></svg></g><g fill="none" stroke="#000" stroke-width="1.4"><path d="M1298.80,403.30 L1306.70,417.10 L1290.90,417.10Z"/></g>
<g fill="#fff"><path d="M1355.20,399.70 L1363.80,408.30 L1355.20,416.90 L1346.60,408.30Z"/></g><g fill="#000"><svg x="1343.20" y="396.30" width="24" height="12" viewBox="1343.20 396.30 24 12" overflow="hidden"><path d="M1355.20,399.70 L1363.80,408.30 L1355.20,416.90 L1346.60,408.30Z"/></svg></g><g fill="none" stroke="#000" stroke-width="1.4"><path d="M1355.20,399.70 L1363.80,408.30 L1355.20,416.90 L1346.60,408.30Z"/></g>
<g fill="#fff"><path d="M1370.60,375.50 L1376.92,379.15 L1376.92,386.45 L1370.60,390.10 L1364.28,386.45 L1364.28,379.15Z"/></g><g fill="#000"><svg x="1358.60" y="370.80" width="24" height="12" viewBox="1358.60 370.80 24 12" overflow="hidden"><path d="M1370.60,375.50 L1376.92,379.15 L1376.92,386.45 L1370.60,390.10 L1364.28,386.45 L1364.28,379.15Z"/></svg></g><g fill="none" stroke="#000" stroke-width="1.4"><path d="M1370.60,375.50 L1376.92,379.15 L1376.92,386.45 L1370.60,390.10 L1364.28,386.45 L1364.28,379.15Z"/></g>
<g fill="#fff"><path d="M1405.40,373.80 L1413.30,387.60 L1397.50,387.60Z"/></g><g fill="#000"><svg x="1393.40" y="371.00" width="24" height="12" viewBox="1393.40 371.00 24 12" overflow="hidden"><path d="M1405.40,373.80 L1413.30,387.60 L1397.50,387.60Z"/></svg></g><g fill="none" stroke="#000" stroke-width="1.4"><path d="M1405.40,373.80 L1413.30,387.60 L1397.50,387.60Z"/></g>
<g fill="#fff"><path d="M1419.30,381.80 L1427.20,395.60 L1411.40,395.60Z"/></g><g fill="#000"><svg x="1407.30" y="379.00" width="24" height="12" viewBox="1407.30 379.00 24 12" overflow="hidden"><path d="M1419.30,381.80 L1427.20,395.60 L1411.40,395.60Z"/></svg></g><g fill="none" stroke="#000" stroke-width="1.4"><path d="M1419.30,381.80 L1427.20,395.60 L1411.40,395.60Z"/></g>
<g fill="#fff"><rect x="1377.80" y="410.00" width="11.2" height="11.2"/></g><g fill="#000"><svg x="1371.40" y="403.60" width="24" height="12" viewBox="1371.40 403.60 24 12" overflow="hidden"><rect x="1377.80" y="410.00" width="11.2" height="11.2"/></svg></g><g fill="none" stroke="#000" stroke-width="1.4"><rect x="1377.80" y="410.00" width="11.2" height="11.2"/></g>
<g fill="#fff"><rect x="1382.70" y="418.70" width="11.2" height="11.2"/></g><g fill="#000"><svg x="1376.30" y="412.30" width="24" height="12" viewBox="1376.30 412.30 24 12" overflow="hidden"><rect x="1382.70" y="418.70" width="11.2" height="11.2"/></svg></g><g fill="none" stroke="#000" stroke-width="1.4"><rect x="1382.70" y="418.70" width="11.2" height="11.2"/></g>
<g fill="#fff"><path d="M1387.20,446.80 L1395.10,433.00 L1379.30,433.00Z"/></g><g fill="#000"><svg x="1375.20" y="425.60" width="24" height="12" viewBox="1375.20 425.60 24 12" overflow="hidden"><path d="M1387.20,446.80 L1395.10,433.00 L1379.30,433.00Z"/></svg></g><g fill="none" stroke="#000" stroke-width="1.4"><path d="M1387.20,446.80 L1395.10,433.00 L1379.30,433.00Z"/></g>
<g fill="#fff"><path d="M1297.30,428.80 L1305.90,437.40 L1297.30,446.00 L1288.70,437.40Z"/></g><g fill="#000"><svg x="1285.30" y="425.40" width="24" height="12" viewBox="1285.30 425.40 24 12" overflow="hidden"><path d="M1297.30,428.80 L1305.90,437.40 L1297.30,446.00 L1288.70,437.40Z"/></svg></g><g fill="none" stroke="#000" stroke-width="1.4"><path d="M1297.30,428.80 L1305.90,437.40 L1297.30,446.00 L1288.70,437.40Z"/></g>
<g fill="#fff"><rect x="1315.50" y="431.80" width="11.2" height="11.2"/></g><g fill="#000"><svg x="1309.10" y="425.40" width="24" height="12" viewBox="1309.10 425.40 24 12" overflow="hidden"><rect x="1315.50" y="431.80" width="11.2" height="11.2"/></svg></g><g fill="none" stroke="#000" stroke-width="1.4"><rect x="1315.50" y="431.80" width="11.2" height="11.2"/></g>
<g fill="#fff"><path d="M1346.20,458.80 L1354.10,445.00 L1338.30,445.00Z"/></g><g fill="#000"><svg x="1334.20" y="437.60" width="24" height="12" viewBox="1334.20 437.60 24 12" overflow="hidden"><path d="M1346.20,458.80 L1354.10,445.00 L1338.30,445.00Z"/></svg></g><g fill="none" stroke="#000" stroke-width="1.4"><path d="M1346.20,458.80 L1354.10,445.00 L1338.30,445.00Z"/></g>
<g fill="#fff"><path d="M1253.50,541.80 L1261.40,528.00 L1245.60,528.00Z"/></g><g fill="#000"><svg x="1241.50" y="520.60" width="24" height="12" viewBox="1241.50 520.60 24 12" overflow="hidden"><path d="M1253.50,541.80 L1261.40,528.00 L1245.60,528.00Z"/></svg></g><g fill="none" stroke="#000" stroke-width="1.4"><path d="M1253.50,541.80 L1261.40,528.00 L1245.60,528.00Z"/></g>
<g fill="#fff"><rect x="1433.70" y="402.60" width="11.2" height="11.2"/></g><g fill="#000"><svg x="1427.30" y="396.20" width="24" height="12" viewBox="1427.30 396.20 24 12" overflow="hidden"><rect x="1433.70" y="402.60" width="11.2" height="11.2"/></svg></g><g fill="none" stroke="#000" stroke-width="1.4"><rect x="1433.70" y="402.60" width="11.2" height="11.2"/></g>
<g fill="#fff"><rect x="1429.80" y="412.40" width="11.2" height="11.2"/></g><g fill="#000"><svg x="1423.40" y="406.00" width="24" height="12" viewBox="1423.40 406.00 24 12" overflow="hidden"><rect x="1429.80" y="412.40" width="11.2" height="11.2"/></svg></g><g fill="none" stroke="#000" stroke-width="1.4"><rect x="1429.80" y="412.40" width="11.2" height="11.2"/></g>
<g fill="#fff"><path d="M1450.00,407.40 L1458.60,416.00 L1450.00,424.60 L1441.40,416.00Z"/></g><g fill="#000"><svg x="1438.00" y="404.00" width="24" height="12" viewBox="1438.00 404.00 24 12" overflow="hidden"><path d="M1450.00,407.40 L1458.60,416.00 L1450.00,424.60 L1441.40,416.00Z"/></svg></g><g fill="none" stroke="#000" stroke-width="1.4"><path d="M1450.00,407.40 L1458.60,416.00 L1450.00,424.60 L1441.40,416.00Z"/></g>
<g fill="#fff"><path d="M1436.60,445.70 L1444.50,431.90 L1428.70,431.90Z"/></g><g fill="#000"><svg x="1424.60" y="424.50" width="24" height="12" viewBox="1424.60 424.50 24 12" overflow="hidden"><path d="M1436.60,445.70 L1444.50,431.90 L1428.70,431.90Z"/></svg></g><g fill="none" stroke="#000" stroke-width="1.4"><path d="M1436.60,445.70 L1444.50,431.90 L1428.70,431.90Z"/></g>
</g>
<rect x="809.2" y="14.7" width="647.8999999999999" height="611.5999999999999" fill="none" stroke="#000" stroke-width="2"/>
<rect x="970" y="24.9" width="477.8" height="190" fill="#fff" stroke="#707070" stroke-width="1.1"/>
<circle cx="987.3" cy="49.8" r="7.2" fill="#000"/>
<circle cx="987.3" cy="79.1" r="7.2" fill="#f00"/>
<g fill="#fff"><circle cx="987.30" cy="108.20" r="6.7"/></g><g fill="#000"><svg x="975.30" y="108.20" width="24" height="12" viewBox="975.30 108.20 24 12" overflow="hidden"><circle cx="987.30" cy="108.20" r="6.7"/></svg></g><g fill="none" stroke="#000" stroke-width="1.4"><circle cx="987.30" cy="108.20" r="6.7"/></g>
<g fill="#fff"><rect x="981.70" y="129.00" width="11.2" height="11.2"/></g><g fill="#000"><svg x="975.30" y="134.60" width="24" height="12" viewBox="975.30 134.60 24 12" overflow="hidden"><rect x="981.70" y="129.00" width="11.2" height="11.2"/></svg></g><g fill="none" stroke="#000" stroke-width="1.4"><rect x="981.70" y="129.00" width="11.2" height="11.2"/></g>
<g fill="#fff"><path d="M987.30,153.10 L995.20,166.90 L979.40,166.90Z"/></g><g fill="#000"><svg x="975.30" y="162.30" width="24" height="12" viewBox="975.30 162.30 24 12" overflow="hidden"><path d="M987.30,153.10 L995.20,166.90 L979.40,166.90Z"/></svg></g><g fill="none" stroke="#000" stroke-width="1.4"><path d="M987.30,153.10 L995.20,166.90 L979.40,166.90Z"/></g>
<g fill="#fff"><path d="M987.30,182.00 L993.62,185.65 L993.62,192.95 L987.30,196.60 L980.98,192.95 L980.98,185.65Z"/></g><g fill="#000"><svg x="975.30" y="189.30" width="24" height="12" viewBox="975.30 189.30 24 12" overflow="hidden"><path d="M987.30,182.00 L993.62,185.65 L993.62,192.95 L987.30,196.60 L980.98,192.95 L980.98,185.65Z"/></svg></g><g fill="none" stroke="#000" stroke-width="1.4"><path d="M987.30,182.00 L993.62,185.65 L993.62,192.95 L987.30,196.60 L980.98,192.95 L980.98,185.65Z"/></g>
<g fill="#fff"><circle cx="1237.60" cy="46.50" r="6.7"/></g><g fill="#000"><svg x="1225.60" y="34.50" width="24" height="12" viewBox="1225.60 34.50 24 12" overflow="hidden"><circle cx="1237.60" cy="46.50" r="6.7"/></svg></g><g fill="none" stroke="#000" stroke-width="1.4"><circle cx="1237.60" cy="46.50" r="6.7"/></g>
<g fill="#fff"><rect x="1232.00" y="68.90" width="11.2" height="11.2"/></g><g fill="#000"><svg x="1225.60" y="62.50" width="24" height="12" viewBox="1225.60 62.50 24 12" overflow="hidden"><rect x="1232.00" y="68.90" width="11.2" height="11.2"/></svg></g><g fill="none" stroke="#000" stroke-width="1.4"><rect x="1232.00" y="68.90" width="11.2" height="11.2"/></g>
<g fill="#fff"><path d="M1237.60,92.00 L1245.50,105.80 L1229.70,105.80Z"/></g><g fill="#000"><svg x="1225.60" y="89.20" width="24" height="12" viewBox="1225.60 89.20 24 12" overflow="hidden"><path d="M1237.60,92.00 L1245.50,105.80 L1229.70,105.80Z"/></svg></g><g fill="none" stroke="#000" stroke-width="1.4"><path d="M1237.60,92.00 L1245.50,105.80 L1229.70,105.80Z"/></g>
<g fill="#fff"><path d="M1237.60,137.70 L1245.50,123.90 L1229.70,123.90Z"/></g><g fill="#000"><svg x="1225.60" y="116.50" width="24" height="12" viewBox="1225.60 116.50 24 12" overflow="hidden"><path d="M1237.60,137.70 L1245.50,123.90 L1229.70,123.90Z"/></svg></g><g fill="none" stroke="#000" stroke-width="1.4"><path d="M1237.60,137.70 L1245.50,123.90 L1229.70,123.90Z"/></g>
<g fill="#fff"><path d="M1237.60,147.50 L1246.20,156.10 L1237.60,164.70 L1229.00,156.10Z"/></g><g fill="#000"><svg x="1225.60" y="144.10" width="24" height="12" viewBox="1225.60 144.10 24 12" overflow="hidden"><path d="M1237.60,147.50 L1246.20,156.10 L1237.60,164.70 L1229.00,156.10Z"/></svg></g><g fill="none" stroke="#000" stroke-width="1.4"><path d="M1237.60,147.50 L1246.20,156.10 L1237.60,164.70 L1229.00,156.10Z"/></g>
<g fill="#fff"><path d="M1237.60,175.90 L1243.92,179.55 L1243.92,186.85 L1237.60,190.50 L1231.28,186.85 L1231.28,179.55Z"/></g><g fill="#000"><svg x="1225.60" y="171.20" width="24" height="12" viewBox="1225.60 171.20 24 12" overflow="hidden"><path d="M1237.60,175.90 L1243.92,179.55 L1243.92,186.85 L1237.60,190.50 L1231.28,186.85 L1231.28,179.55Z"/></svg></g><g fill="none" stroke="#000" stroke-width="1.4"><path d="M1237.60,175.90 L1243.92,179.55 L1243.92,186.85 L1237.60,190.50 L1231.28,186.85 L1231.28,179.55Z"/></g>
<text x="1009" y="56.5" font-size="19"><tspan font-style="italic">T</tspan><tspan font-size="12.8" dy="4.9">SDW</tspan><tspan dy="-4.9">, WTF-μSR</tspan></text>
<text x="1014.4" y="86.5" font-size="19"><tspan font-style="italic">T</tspan><tspan font-size="12.8" dy="4.9">SDW</tspan><tspan dy="-4.9">, ZF-μSR</tspan></text>
<text x="1014.4" y="113.8" font-size="19"><tspan font-style="italic">T</tspan><tspan font-size="12.8" dy="4.9">DW</tspan><tspan dy="-4.9">, arxiv:2307.14819</tspan></text>
<text x="1014.4" y="141.0" font-size="19"><tspan font-style="italic">T</tspan><tspan font-size="12.8" dy="4.9">DW</tspan><tspan dy="-4.9">, JPCS<tspan font-weight="bold">121</tspan></tspan></text>
<text x="1014.4" y="168.2" font-size="19"><tspan font-style="italic">T</tspan><tspan font-size="12.8" dy="4.9">DW</tspan><tspan dy="-4.9">, PRB<tspan font-weight="bold">63</tspan></tspan></text>
<text x="1014.4" y="195.4" font-size="19"><tspan font-style="italic">T</tspan><tspan font-size="12.8" dy="4.9">DW</tspan><tspan dy="-4.9">, arxiv:2309.17378</tspan></text>
<text x="1264" y="53.1" font-size="19"><tspan font-style="italic">T</tspan><tspan font-size="12.8" dy="4.9">c</tspan><tspan dy="-4.9">, arxiv:2309.17378</tspan></text>
<text x="1264" y="80.5" font-size="19"><tspan font-style="italic">T</tspan><tspan font-size="12.8" dy="4.9">c</tspan><tspan dy="-4.9">, arxiv:2311.12361</tspan></text>
<text x="1264" y="107.5" font-size="19"><tspan font-style="italic">T</tspan><tspan font-size="12.8" dy="4.9">c</tspan><tspan dy="-4.9">, Nature<tspan font-weight="bold">621</tspan></tspan></text>
<text x="1264" y="134.5" font-size="19"><tspan font-style="italic">T</tspan><tspan font-size="12.8" dy="4.9">c</tspan><tspan dy="-4.9">, arXiv:2307.14819</tspan></text>
<text x="1264" y="162.1" font-size="19"><tspan font-style="italic">T</tspan><tspan font-size="12.8" dy="4.9">c</tspan><tspan dy="-4.9">, JMST<tspan font-weight="bold">185</tspan></tspan></text>
<text x="1264" y="189.2" font-size="19"><tspan font-style="italic">T</tspan><tspan font-size="12.8" dy="4.9">c</tspan><tspan dy="-4.9">, arxiv:2312.07341</tspan></text>
</svg></body></html>
